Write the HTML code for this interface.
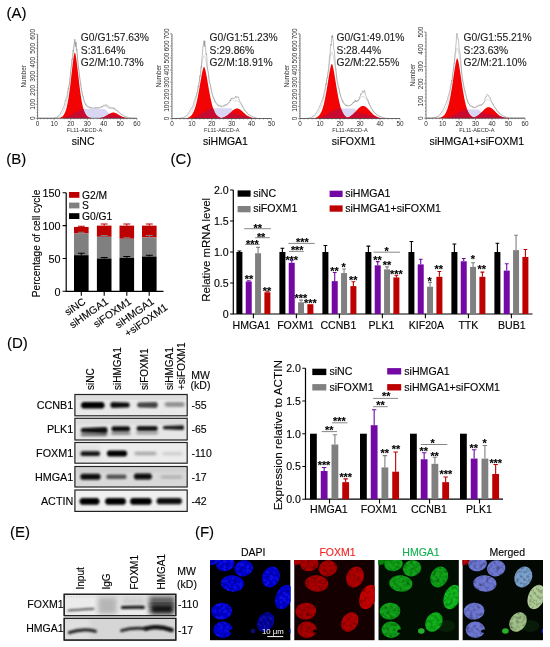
<!DOCTYPE html>
<html><head><meta charset="utf-8"><style>
html,body{margin:0;padding:0;background:#fff;}
svg{display:block;font-family:"Liberation Sans", Arial, sans-serif;}
</style></head><body>
<svg width="550" height="647" viewBox="0 0 550 647">
<rect width="550" height="647" fill="#fff"/>
<text x="6.40" y="17.80" font-size="15" text-anchor="start" fill="#000" stroke="#000" stroke-width="0.12">(A)</text>
<g>
<polygon points="37.60,118.30 37.60,118.30 38.01,118.30 38.43,118.30 38.84,118.30 39.26,118.30 39.67,118.30 40.08,118.30 40.50,118.30 40.91,118.30 41.32,118.30 41.74,118.30 42.15,118.30 42.56,118.30 42.98,118.30 43.39,118.30 43.81,118.30 44.22,118.30 44.63,118.30 45.05,118.30 45.46,118.30 45.88,118.30 46.29,118.30 46.70,118.30 47.12,118.30 47.53,118.30 47.94,118.30 48.36,118.30 48.77,118.30 49.19,118.30 49.60,118.30 50.01,118.30 50.43,118.30 50.84,118.30 51.25,118.30 51.67,118.30 52.08,118.30 52.50,118.30 52.91,118.30 53.32,118.30 53.74,118.30 54.15,118.30 54.56,118.30 54.98,118.30 55.39,118.30 55.81,118.30 56.22,118.30 56.63,118.30 57.05,118.30 57.46,118.30 57.87,118.30 58.29,118.30 58.70,118.30 59.12,118.30 59.53,118.30 59.94,118.30 60.36,118.30 60.77,118.30 61.18,118.30 61.60,118.30 62.01,118.30 62.42,118.30 62.84,118.30 63.25,118.30 63.67,118.18 64.08,117.97 64.49,117.77 64.91,117.57 65.32,117.36 65.73,117.16 66.15,116.95 66.56,116.75 66.98,116.55 67.39,116.34 67.80,116.14 68.22,115.93 68.63,115.73 69.05,115.53 69.46,115.32 69.87,115.12 70.29,114.92 70.70,114.71 71.11,114.51 71.53,114.30 71.94,114.10 72.36,113.90 72.77,113.69 73.18,113.49 73.60,113.28 74.01,113.08 74.42,112.88 74.84,112.67 75.25,112.47 75.66,112.26 76.08,112.06 76.49,111.86 76.91,111.65 77.32,111.45 77.73,111.24 78.15,111.04 78.56,110.84 78.97,110.63 79.39,110.43 79.80,110.23 80.22,110.02 80.63,109.82 81.04,109.61 81.46,109.41 81.87,109.21 82.28,109.00 82.70,108.92 83.11,108.92 83.53,108.92 83.94,108.92 84.35,108.92 84.77,108.92 85.18,108.92 85.59,108.92 86.01,108.92 86.42,108.92 86.84,108.92 87.25,108.92 87.66,108.92 88.08,108.92 88.49,108.92 88.91,108.92 89.32,108.92 89.73,108.92 90.15,108.92 90.56,108.92 90.97,108.92 91.39,108.92 91.80,108.92 92.22,108.92 92.63,108.92 93.04,108.92 93.46,108.92 93.87,108.92 94.28,108.92 94.70,108.92 95.11,108.92 95.53,108.92 95.94,108.92 96.35,108.92 96.77,108.92 97.18,108.92 97.59,108.92 98.01,108.92 98.42,108.92 98.84,108.92 99.25,108.92 99.66,108.92 100.08,108.92 100.49,108.92 100.90,108.92 101.32,108.92 101.73,108.92 102.15,108.92 102.56,108.92 102.97,108.92 103.39,108.92 103.80,108.92 104.21,108.92 104.63,108.92 105.04,109.01 105.46,109.48 105.87,109.95 106.28,110.42 106.70,110.89 107.11,111.36 107.52,111.83 107.94,112.30 108.35,112.77 108.77,113.23 109.18,113.70 109.59,114.17 110.01,114.64 110.42,115.11 110.83,115.58 111.25,116.05 111.66,116.52 112.07,116.99 112.49,117.46 112.90,117.92 113.32,118.30 113.73,118.30 114.14,118.30 114.56,118.30 114.97,118.30 115.38,118.30 115.80,118.30 116.21,118.30 116.63,118.30 117.04,118.30 117.45,118.30 117.87,118.30 118.28,118.30 118.69,118.30 119.11,118.30 119.52,118.30 119.94,118.30 120.35,118.30 120.76,118.30 121.18,118.30 121.59,118.30 122.00,118.30 122.42,118.30 122.83,118.30 123.25,118.30 123.66,118.30 124.07,118.30 124.49,118.30 124.90,118.30 125.31,118.30 125.73,118.30 126.14,118.30 126.56,118.30 126.97,118.30 127.38,118.30 127.80,118.30 128.21,118.30 128.62,118.30 129.04,118.30 129.45,118.30 129.87,118.30 130.28,118.30 130.69,118.30 131.11,118.30 131.52,118.30 131.94,118.30 132.35,118.30 132.76,118.30 133.18,118.30 133.59,118.30 134.00,118.30 134.42,118.30 134.83,118.30 135.25,118.30 135.66,118.30 136.07,118.30 136.49,118.30 136.90,118.30 136.90,118.30" fill="#d8d6f2"/>
<polygon points="37.60,118.30 37.60,118.30 38.01,118.30 38.43,118.30 38.84,118.30 39.26,118.30 39.67,118.30 40.08,118.30 40.50,118.30 40.91,118.30 41.32,118.30 41.74,118.30 42.15,118.30 42.56,118.30 42.98,118.30 43.39,118.30 43.81,118.30 44.22,118.30 44.63,118.30 45.05,118.30 45.46,118.30 45.88,118.30 46.29,118.30 46.70,118.30 47.12,118.30 47.53,118.30 47.94,118.30 48.36,118.30 48.77,118.30 49.19,118.30 49.60,118.30 50.01,118.30 50.43,118.30 50.84,118.30 51.25,118.30 51.67,118.30 52.08,118.30 52.50,118.29 52.91,118.29 53.32,118.29 53.74,118.29 54.15,118.28 54.56,118.28 54.98,118.27 55.39,118.26 55.81,118.25 56.22,118.24 56.63,118.22 57.05,118.20 57.46,118.17 57.87,118.13 58.29,118.09 58.70,118.03 59.12,117.96 59.53,117.87 59.94,117.77 60.36,117.64 60.77,117.48 61.18,117.28 61.60,117.05 62.01,116.77 62.42,116.44 62.84,116.04 63.25,115.57 63.67,115.01 64.08,114.36 64.49,113.59 64.91,112.71 65.32,111.69 65.73,110.53 66.15,109.19 66.56,107.69 66.98,105.99 67.39,104.10 67.80,101.99 68.22,99.67 68.63,97.13 69.05,94.38 69.46,91.42 69.87,88.26 70.29,84.93 70.70,81.46 71.11,77.87 71.53,74.22 71.94,70.57 72.36,66.98 72.77,63.52 73.18,60.30 73.60,57.42 74.01,55.00 74.42,53.21 74.84,52.36 75.25,53.21 75.66,55.00 76.08,57.42 76.49,60.30 76.91,63.52 77.32,66.98 77.73,70.57 78.15,74.22 78.56,77.87 78.97,81.46 79.39,84.93 79.80,88.26 80.22,91.42 80.63,94.38 81.04,97.13 81.46,99.67 81.87,101.99 82.28,104.10 82.70,105.99 83.11,107.69 83.53,109.19 83.94,110.53 84.35,111.69 84.77,112.71 85.18,113.59 85.59,114.36 86.01,115.01 86.42,115.57 86.84,116.04 87.25,116.44 87.66,116.77 88.08,117.05 88.49,117.28 88.91,117.48 89.32,117.64 89.73,117.77 90.15,117.87 90.56,117.96 90.97,118.03 91.39,118.09 91.80,118.13 92.22,118.17 92.63,118.20 93.04,118.22 93.46,118.24 93.87,118.25 94.28,118.26 94.70,118.27 95.11,118.28 95.53,118.27 95.94,118.26 96.35,118.25 96.77,118.24 97.18,118.22 97.59,118.20 98.01,118.18 98.42,118.15 98.84,118.12 99.25,118.08 99.66,118.04 100.08,117.98 100.49,117.92 100.90,117.85 101.32,117.77 101.73,117.68 102.15,117.57 102.56,117.45 102.97,117.32 103.39,117.17 103.80,117.01 104.21,116.83 104.63,116.64 105.04,116.44 105.46,116.22 105.87,115.99 106.28,115.75 106.70,115.50 107.11,115.24 107.52,114.98 107.94,114.71 108.35,114.45 108.77,114.19 109.18,113.94 109.59,113.70 110.01,113.48 110.42,113.27 110.83,113.09 111.25,112.93 111.66,112.79 112.07,112.69 112.49,112.61 112.90,112.57 113.32,112.56 113.73,112.58 114.14,112.64 114.56,112.73 114.97,112.84 115.38,112.99 115.80,113.16 116.21,113.35 116.63,113.57 117.04,113.80 117.45,114.04 117.87,114.30 118.28,114.56 118.69,114.82 119.11,115.08 119.52,115.34 119.94,115.60 120.35,115.84 120.76,116.08 121.18,116.31 121.59,116.52 122.00,116.72 122.42,116.90 122.83,117.08 123.25,117.23 123.66,117.37 124.07,117.50 124.49,117.61 124.90,117.71 125.31,117.80 125.73,117.88 126.14,117.95 126.56,118.01 126.97,118.06 127.38,118.10 127.80,118.14 128.21,118.17 128.62,118.19 129.04,118.21 129.45,118.23 129.87,118.24 130.28,118.26 130.69,118.27 131.11,118.27 131.52,118.28 131.94,118.28 132.35,118.29 132.76,118.29 133.18,118.29 133.59,118.29 134.00,118.30 134.42,118.30 134.83,118.30 135.25,118.30 135.66,118.30 136.07,118.30 136.49,118.30 136.90,118.30 136.90,118.30" fill="#f20404"/>
<polygon points="37.60,118.30 37.60,118.30 38.01,118.30 38.43,118.30 38.84,118.30 39.26,118.30 39.67,118.30 40.08,118.30 40.50,118.30 40.91,118.30 41.32,118.30 41.74,118.30 42.15,118.30 42.56,118.30 42.98,118.30 43.39,118.30 43.81,118.30 44.22,118.30 44.63,118.30 45.05,118.30 45.46,118.30 45.88,118.30 46.29,118.30 46.70,118.30 47.12,118.30 47.53,118.30 47.94,118.30 48.36,118.30 48.77,118.30 49.19,118.30 49.60,118.30 50.01,118.30 50.43,118.30 50.84,118.30 51.25,118.30 51.67,118.30 52.08,118.30 52.50,118.30 52.91,118.30 53.32,118.30 53.74,118.30 54.15,118.30 54.56,118.30 54.98,118.30 55.39,118.30 55.81,118.30 56.22,118.30 56.63,118.30 57.05,118.30 57.46,118.30 57.87,118.30 58.29,118.30 58.70,118.30 59.12,118.30 59.53,118.30 59.94,118.30 60.36,118.30 60.77,118.30 61.18,118.30 61.60,118.30 62.01,118.30 62.42,118.30 62.84,118.30 63.25,118.30 63.67,118.18 64.08,117.97 64.49,117.77 64.91,117.57 65.32,117.36 65.73,117.16 66.15,116.95 66.56,116.75 66.98,116.55 67.39,116.34 67.80,116.14 68.22,115.93 68.63,115.73 69.05,115.53 69.46,115.32 69.87,115.12 70.29,114.92 70.70,114.71 71.11,114.51 71.53,114.30 71.94,114.10 72.36,113.90 72.77,113.69 73.18,113.49 73.60,113.28 74.01,113.08 74.42,112.88 74.84,112.67 75.25,112.47 75.66,112.26 76.08,112.06 76.49,111.86 76.91,111.65 77.32,111.45 77.73,111.24 78.15,111.04 78.56,110.84 78.97,110.63 79.39,110.43 79.80,110.23 80.22,110.02 80.63,109.82 81.04,109.61 81.46,109.41 81.87,109.21 82.28,109.00 82.70,108.97 83.11,109.05 83.53,109.19 83.94,110.53 84.35,111.69 84.77,112.71 85.18,113.59 85.59,114.36 86.01,115.01 86.42,115.57 86.84,116.04 87.25,116.44 87.66,116.77 88.08,117.05 88.49,117.28 88.91,117.48 89.32,117.64 89.73,117.77 90.15,117.87 90.56,117.96 90.97,118.03 91.39,118.09 91.80,118.13 92.22,118.17 92.63,118.20 93.04,118.22 93.46,118.24 93.87,118.25 94.28,118.26 94.70,118.27 95.11,118.28 95.53,118.27 95.94,118.26 96.35,118.25 96.77,118.24 97.18,118.22 97.59,118.20 98.01,118.18 98.42,118.15 98.84,118.12 99.25,118.08 99.66,118.04 100.08,117.98 100.49,117.92 100.90,117.85 101.32,117.77 101.73,117.68 102.15,117.57 102.56,117.45 102.97,117.32 103.39,117.17 103.80,117.01 104.21,116.83 104.63,116.64 105.04,116.44 105.46,116.22 105.87,115.99 106.28,115.75 106.70,115.50 107.11,115.24 107.52,114.98 107.94,114.71 108.35,114.45 108.77,114.19 109.18,114.09 109.59,114.17 110.01,114.25 110.42,114.33 110.83,114.41 111.25,114.49 111.66,114.57 112.07,114.65 112.49,114.73 112.90,114.81 113.32,114.89 113.73,114.97 114.14,115.05 114.56,115.13 114.97,115.21 115.38,115.29 115.80,115.37 116.21,115.45 116.63,115.53 117.04,115.61 117.45,115.69 117.87,115.77 118.28,115.85 118.69,115.93 119.11,116.01 119.52,116.09 119.94,116.17 120.35,116.25 120.76,116.33 121.18,116.41 121.59,116.52 122.00,116.72 122.42,116.90 122.83,117.08 123.25,117.23 123.66,117.37 124.07,117.50 124.49,117.61 124.90,117.71 125.31,117.80 125.73,117.88 126.14,117.95 126.56,118.01 126.97,118.06 127.38,118.10 127.80,118.14 128.21,118.17 128.62,118.19 129.04,118.21 129.45,118.23 129.87,118.24 130.28,118.26 130.69,118.27 131.11,118.30 131.52,118.30 131.94,118.30 132.35,118.30 132.76,118.30 133.18,118.30 133.59,118.30 134.00,118.30 134.42,118.30 134.83,118.30 135.25,118.30 135.66,118.30 136.07,118.30 136.49,118.30 136.90,118.30 136.90,118.30" fill="#c80a30"/>
<polyline points="37.60,118.30 38.01,118.30 38.43,118.30 38.84,118.30 39.26,118.30 39.67,118.30 40.08,118.30 40.50,118.30 40.91,118.30 41.32,118.30 41.74,118.30 42.15,118.30 42.56,118.30 42.98,118.30 43.39,118.30 43.81,118.30 44.22,118.30 44.63,118.30 45.05,118.30 45.46,118.30 45.88,118.30 46.29,118.30 46.70,118.30 47.12,118.30 47.53,118.30 47.94,118.30 48.36,118.30 48.77,118.29 49.19,118.29 49.60,118.29 50.01,118.28 50.43,118.28 50.84,118.27 51.25,118.26 51.67,118.25 52.08,118.23 52.50,118.21 52.91,118.18 53.32,118.15 53.74,118.11 54.15,118.06 54.56,118.00 54.98,117.93 55.39,117.85 55.81,117.75 56.22,117.64 56.63,117.50 57.05,117.35 57.46,117.18 57.87,116.98 58.29,116.76 58.70,116.52 59.12,116.25 59.53,115.95 59.94,115.62 60.36,115.26 60.77,114.87 61.18,114.44 61.60,113.98 62.01,113.48 62.42,112.93 62.84,112.34 63.25,111.68 63.67,110.84 64.08,109.83 64.49,108.74 64.91,107.55 65.32,106.25 65.73,104.82 66.15,103.24 66.56,101.51 66.98,99.60 67.39,97.49 67.80,95.18 68.22,92.66 68.63,89.91 69.05,86.94 69.46,83.75 69.87,80.35 70.29,76.76 70.70,73.01 71.11,69.13 71.53,65.17 71.94,61.19 72.36,57.26 72.77,53.48 73.18,49.92 73.60,46.72 74.01,44.01 74.42,41.96 74.84,40.91 75.25,41.69 75.66,43.47 76.08,45.92 76.49,48.87 76.91,52.17 77.32,55.71 77.73,59.41 78.15,63.16 78.56,66.90 78.97,70.58 79.39,74.13 79.80,77.53 80.22,80.73 80.63,83.72 81.04,86.49 81.46,89.02 81.87,91.32 82.28,93.38 82.70,95.34 83.11,97.18 83.53,98.80 83.94,100.24 84.35,101.50 84.77,102.60 85.18,103.56 85.59,104.38 86.01,105.08 86.42,105.68 86.84,106.19 87.25,106.63 87.66,106.99 88.08,107.29 88.49,107.54 88.91,107.75 89.32,107.92 89.73,108.06 90.15,108.17 90.56,108.26 90.97,108.34 91.39,108.40 91.80,108.44 92.22,108.48 92.63,108.50 93.04,108.52 93.46,108.53 93.87,108.54 94.28,108.54 94.70,108.54 95.11,108.53 95.53,108.51 95.94,108.50 96.35,108.47 96.77,108.45 97.18,108.41 97.59,108.37 98.01,108.33 98.42,108.27 98.84,108.21 99.25,108.14 99.66,108.06 100.08,107.97 100.49,107.88 100.90,107.77 101.32,107.65 101.73,107.51 102.15,107.37 102.56,107.21 102.97,107.04 103.39,106.85 103.80,106.66 104.21,106.45 104.63,106.23 105.04,106.09 105.46,106.34 105.87,106.57 106.28,106.80 106.70,107.03 107.11,107.25 107.52,107.47 107.94,107.70 108.35,107.93 108.77,108.18 109.18,108.43 109.59,108.70 110.01,108.58 110.42,108.49 110.83,108.43 111.25,108.38 111.66,108.37 112.07,108.39 112.49,108.43 112.90,108.51 113.32,108.63 113.73,108.77 114.14,108.94 114.56,109.15 114.97,109.38 115.38,109.64 115.80,109.92 116.21,110.23 116.63,110.55 117.04,110.88 117.45,111.23 117.87,111.58 118.28,111.94 118.69,112.30 119.11,112.66 119.52,113.01 119.94,113.36 120.35,113.70 120.76,114.02 121.18,114.34 121.59,114.64 122.00,114.92 122.42,115.19 122.83,115.45 123.25,115.69 123.66,115.91 124.07,116.13 124.49,116.32 124.90,116.51 125.31,116.68 125.73,116.84 126.14,116.99 126.56,117.13 126.97,117.27 127.38,117.39 127.80,117.51 128.21,117.62 128.62,117.73 129.04,117.83 129.45,117.93 129.87,118.03 130.28,118.12 130.69,118.22 131.11,118.27 131.52,118.28 131.94,118.28 132.35,118.29 132.76,118.29 133.18,118.29 133.59,118.29 134.00,118.30 134.42,118.30 134.83,118.30 135.25,118.30 135.66,118.30 136.07,118.30 136.49,118.30 136.90,118.30" fill="none" stroke="#b4b4b4" stroke-width="0.45"/>
<polyline points="37.60,118.30 38.01,118.30 38.43,118.30 38.84,118.30 39.26,118.30 39.67,118.30 40.08,118.30 40.50,118.30 40.91,118.30 41.32,118.30 41.74,118.30 42.15,118.30 42.56,118.30 42.98,118.30 43.39,118.30 43.81,118.30 44.22,118.30 44.63,118.30 45.05,118.30 45.46,118.30 45.88,118.30 46.29,118.30 46.70,118.30 47.12,118.30 47.53,118.30 47.94,118.30 48.36,118.30 48.77,118.30 49.19,118.30 49.60,118.29 50.01,118.29 50.43,118.29 50.84,118.28 51.25,118.28 51.67,118.27 52.08,118.25 52.50,118.24 52.91,118.22 53.32,118.19 53.74,118.16 54.15,118.09 54.56,118.04 54.98,117.95 55.39,117.87 55.81,117.74 56.22,117.60 56.63,117.42 57.05,117.18 57.46,116.92 57.87,116.55 58.29,116.23 58.70,115.75 59.12,115.29 59.53,114.71 59.94,114.25 60.36,113.89 60.77,112.80 61.18,111.95 61.60,111.17 62.01,110.60 62.42,109.56 62.84,109.18 63.25,107.48 63.67,106.66 64.08,105.83 64.49,104.94 64.91,102.20 65.32,100.48 65.73,100.92 66.15,97.78 66.56,97.11 66.98,96.14 67.39,93.96 67.80,90.50 68.22,87.95 68.63,88.68 69.05,84.03 69.46,83.84 69.87,77.98 70.29,76.85 70.70,70.71 71.11,66.61 71.53,65.88 71.94,58.91 72.36,59.87 72.77,57.93 73.18,50.12 73.60,51.33 74.01,46.83 74.42,42.46 74.84,39.14 75.25,43.93 75.66,46.70 76.08,42.06 76.49,50.27 76.91,48.98 77.32,53.77 77.73,61.69 78.15,65.15 78.56,68.65 78.97,71.64 79.39,75.39 79.80,78.81 80.22,81.56 80.63,83.08 81.04,87.36 81.46,89.94 81.87,91.10 82.28,94.45 82.70,96.03 83.11,95.97 83.53,98.64 83.94,99.91 84.35,102.19 84.77,102.37 85.18,102.94 85.59,104.68 86.01,104.31 86.42,104.85 86.84,106.21 87.25,105.74 87.66,106.31 88.08,106.29 88.49,106.98 88.91,106.69 89.32,106.81 89.73,107.89 90.15,107.94 90.56,107.22 90.97,106.92 91.39,107.90 91.80,107.68 92.22,107.54 92.63,107.92 93.04,107.88 93.46,107.96 93.87,107.90 94.28,107.62 94.70,108.00 95.11,107.90 95.53,107.40 95.94,108.34 96.35,107.64 96.77,107.41 97.18,107.93 97.59,108.02 98.01,107.24 98.42,107.92 98.84,107.94 99.25,107.55 99.66,107.13 100.08,107.82 100.49,107.41 100.90,107.26 101.32,106.42 101.73,106.78 102.15,105.98 102.56,106.74 102.97,106.24 103.39,105.50 103.80,104.84 104.21,105.20 104.63,105.25 105.04,105.20 105.46,104.73 105.87,105.47 106.28,104.71 106.70,104.89 107.11,106.14 107.52,106.26 107.94,105.77 108.35,106.33 108.77,106.45 109.18,107.44 109.59,108.10 110.01,107.87 110.42,107.23 110.83,107.92 111.25,107.87 111.66,107.85 112.07,107.93 112.49,108.05 112.90,107.55 113.32,108.64 113.73,108.99 114.14,108.08 114.56,108.39 114.97,108.53 115.38,109.40 115.80,109.15 116.21,109.50 116.63,110.52 117.04,110.36 117.45,110.64 117.87,111.16 118.28,111.64 118.69,112.18 119.11,112.50 119.52,112.93 119.94,113.37 120.35,113.40 120.76,113.90 121.18,113.96 121.59,114.63 122.00,114.55 122.42,114.93 122.83,115.11 123.25,115.39 123.66,115.64 124.07,115.96 124.49,116.31 124.90,116.33 125.31,116.63 125.73,116.77 126.14,116.87 126.56,117.04 126.97,117.20 127.38,117.27 127.80,117.44 128.21,117.58 128.62,117.70 129.04,117.78 129.45,117.91 129.87,118.00 130.28,118.11 130.69,118.21 131.11,118.27 131.52,118.28 131.94,118.28 132.35,118.29 132.76,118.29 133.18,118.29 133.59,118.29 134.00,118.30 134.42,118.30 134.83,118.30 135.25,118.30 135.66,118.30 136.07,118.30 136.49,118.30 136.90,118.30" fill="none" stroke="#6a6a6a" stroke-width="0.42"/>
<path d="M37.60,34.30V118.30H136.90" fill="none" stroke="#444" stroke-width="0.7"/>
<path d="M37.60,118.30h-2.0 M37.60,115.50h-1.0 M37.60,112.70h-1.0 M37.60,109.90h-1.0 M37.60,107.10h-1.0 M37.60,104.30h-2.0 M37.60,101.50h-1.0 M37.60,98.70h-1.0 M37.60,95.90h-1.0 M37.60,93.10h-1.0 M37.60,90.30h-2.0 M37.60,87.50h-1.0 M37.60,84.70h-1.0 M37.60,81.90h-1.0 M37.60,79.10h-1.0 M37.60,76.30h-2.0 M37.60,73.50h-1.0 M37.60,70.70h-1.0 M37.60,67.90h-1.0 M37.60,65.10h-1.0 M37.60,62.30h-2.0 M37.60,59.50h-1.0 M37.60,56.70h-1.0 M37.60,53.90h-1.0 M37.60,51.10h-1.0 M37.60,48.30h-2.0 M37.60,45.50h-1.0 M37.60,42.70h-1.0 M37.60,39.90h-1.0 M37.60,37.10h-1.0 M37.60,34.30h-2.0 M37.60,118.30v2.0 M40.91,118.30v1.0 M44.22,118.30v1.0 M47.53,118.30v1.0 M50.84,118.30v1.0 M54.15,118.30v2.0 M57.46,118.30v1.0 M60.77,118.30v1.0 M64.08,118.30v1.0 M67.39,118.30v1.0 M70.70,118.30v2.0 M74.01,118.30v1.0 M77.32,118.30v1.0 M80.63,118.30v1.0 M83.94,118.30v1.0 M87.25,118.30v2.0 M90.56,118.30v1.0 M93.87,118.30v1.0 M97.18,118.30v1.0 M100.49,118.30v1.0 M103.80,118.30v2.0 M107.11,118.30v1.0 M110.42,118.30v1.0 M113.73,118.30v1.0 M117.04,118.30v1.0 M120.35,118.30v2.0 M123.66,118.30v1.0 M126.97,118.30v1.0 M130.28,118.30v1.0 M133.59,118.30v1.0 M136.90,118.30v2.0" stroke="#444" stroke-width="0.5"/>
<text x="34.90" y="118.30" font-size="6.5" text-anchor="middle" fill="#2a2a2a" transform="rotate(-90 34.90 118.30)">0</text>
<text x="34.90" y="104.30" font-size="6.5" text-anchor="middle" fill="#2a2a2a" transform="rotate(-90 34.90 104.30)">100</text>
<text x="34.90" y="90.30" font-size="6.5" text-anchor="middle" fill="#2a2a2a" transform="rotate(-90 34.90 90.30)">200</text>
<text x="34.90" y="76.30" font-size="6.5" text-anchor="middle" fill="#2a2a2a" transform="rotate(-90 34.90 76.30)">300</text>
<text x="34.90" y="62.30" font-size="6.5" text-anchor="middle" fill="#2a2a2a" transform="rotate(-90 34.90 62.30)">400</text>
<text x="34.90" y="48.30" font-size="6.5" text-anchor="middle" fill="#2a2a2a" transform="rotate(-90 34.90 48.30)">500</text>
<text x="34.90" y="34.30" font-size="6.5" text-anchor="middle" fill="#2a2a2a" transform="rotate(-90 34.90 34.30)">600</text>
<text x="37.60" y="126.10" font-size="6.4" text-anchor="middle" fill="#2a2a2a">0</text>
<text x="54.15" y="126.10" font-size="6.4" text-anchor="middle" fill="#2a2a2a">10</text>
<text x="70.70" y="126.10" font-size="6.4" text-anchor="middle" fill="#2a2a2a">20</text>
<text x="87.25" y="126.10" font-size="6.4" text-anchor="middle" fill="#2a2a2a">30</text>
<text x="103.80" y="126.10" font-size="6.4" text-anchor="middle" fill="#2a2a2a">40</text>
<text x="120.35" y="126.10" font-size="6.4" text-anchor="middle" fill="#2a2a2a">50</text>
<text x="136.90" y="126.10" font-size="6.4" text-anchor="middle" fill="#2a2a2a">60</text>
<text x="26.20" y="76.30" font-size="6.3" text-anchor="middle" fill="#2a2a2a" transform="rotate(-90 26.20 76.30)">Number</text>
<text x="84.50" y="131.60" font-size="5.6" text-anchor="middle" fill="#333">FL11-AECD-A</text>
<text x="80.80" y="41.00" font-size="10.3" text-anchor="start" fill="#222" stroke="#222" stroke-width="0.12">G0/G1:57.63%</text>
<text x="80.80" y="53.55" font-size="10.3" text-anchor="start" fill="#222" stroke="#222" stroke-width="0.12">S:31.64%</text>
<text x="80.80" y="66.10" font-size="10.3" text-anchor="start" fill="#222" stroke="#222" stroke-width="0.12">G2/M:10.73%</text>
<text x="83.10" y="145.30" font-size="10.5" text-anchor="middle" fill="#000" stroke="#000" stroke-width="0.12">siNC</text>
</g>
<g>
<polygon points="172.00,118.50 172.00,118.50 172.41,118.50 172.83,118.50 173.24,118.50 173.66,118.50 174.07,118.50 174.49,118.50 174.90,118.50 175.32,118.50 175.73,118.50 176.15,118.50 176.56,118.50 176.97,118.50 177.39,118.50 177.80,118.50 178.22,118.50 178.63,118.50 179.05,118.50 179.46,118.50 179.88,118.50 180.29,118.50 180.71,118.50 181.12,118.50 181.54,118.50 181.95,118.50 182.36,118.50 182.78,118.50 183.19,118.50 183.61,118.50 184.02,118.50 184.44,118.50 184.85,118.50 185.27,118.50 185.68,118.50 186.10,118.50 186.51,118.50 186.93,118.50 187.34,118.50 187.75,118.50 188.17,118.50 188.58,118.50 189.00,118.50 189.41,118.50 189.83,118.50 190.24,118.50 190.66,118.50 191.07,118.50 191.49,118.50 191.90,118.50 192.31,118.49 192.73,118.26 193.14,118.03 193.56,117.80 193.97,117.57 194.39,117.34 194.80,117.11 195.22,116.88 195.63,116.65 196.05,116.42 196.46,116.19 196.88,115.96 197.29,115.73 197.70,115.50 198.12,115.27 198.53,115.03 198.95,114.80 199.36,114.57 199.78,114.34 200.19,114.11 200.61,113.88 201.02,113.65 201.44,113.42 201.85,113.19 202.26,112.96 202.68,112.73 203.09,112.50 203.51,112.27 203.92,112.04 204.34,111.81 204.75,111.58 205.17,111.35 205.58,111.12 206.00,110.89 206.41,110.66 206.82,110.43 207.24,110.20 207.65,109.97 208.07,109.74 208.48,109.51 208.90,109.27 209.31,109.04 209.73,108.81 210.14,108.58 210.56,108.35 210.97,108.22 211.39,108.22 211.80,108.22 212.21,108.22 212.63,108.22 213.04,108.22 213.46,108.22 213.87,108.22 214.29,108.22 214.70,108.22 215.12,108.22 215.53,108.22 215.95,108.22 216.36,108.22 216.78,108.22 217.19,108.22 217.60,108.22 218.02,108.22 218.43,108.22 218.85,108.22 219.26,108.22 219.68,108.22 220.09,108.22 220.51,108.22 220.92,108.22 221.34,108.22 221.75,108.22 222.16,108.22 222.58,108.22 222.99,108.22 223.41,108.22 223.82,108.22 224.24,108.22 224.65,108.22 225.07,108.22 225.48,108.22 225.90,108.22 226.31,108.22 226.72,108.22 227.14,108.22 227.55,108.22 227.97,108.22 228.38,108.22 228.80,108.22 229.21,108.22 229.63,108.22 230.04,108.22 230.46,108.22 230.87,108.22 231.29,108.22 231.70,108.22 232.11,109.01 232.53,109.80 232.94,110.60 233.36,111.39 233.77,112.18 234.19,112.98 234.60,113.77 235.02,114.56 235.43,115.36 235.85,116.15 236.26,116.94 236.68,117.74 237.09,118.50 237.50,118.50 237.92,118.50 238.33,118.50 238.75,118.50 239.16,118.50 239.58,118.50 239.99,118.50 240.41,118.50 240.82,118.50 241.24,118.50 241.65,118.50 242.06,118.50 242.48,118.50 242.89,118.50 243.31,118.50 243.72,118.50 244.14,118.50 244.55,118.50 244.97,118.50 245.38,118.50 245.80,118.50 246.21,118.50 246.62,118.50 247.04,118.50 247.45,118.50 247.87,118.50 248.28,118.50 248.70,118.50 249.11,118.50 249.53,118.50 249.94,118.50 250.36,118.50 250.77,118.50 251.19,118.50 251.60,118.50 252.01,118.50 252.43,118.50 252.84,118.50 253.26,118.50 253.67,118.50 254.09,118.50 254.50,118.50 254.92,118.50 255.33,118.50 255.75,118.50 256.16,118.50 256.57,118.50 256.99,118.50 257.40,118.50 257.82,118.50 258.23,118.50 258.65,118.50 259.06,118.50 259.48,118.50 259.89,118.50 260.31,118.50 260.72,118.50 261.14,118.50 261.55,118.50 261.96,118.50 262.38,118.50 262.79,118.50 263.21,118.50 263.62,118.50 264.04,118.50 264.45,118.50 264.87,118.50 265.28,118.50 265.70,118.50 266.11,118.50 266.52,118.50 266.94,118.50 267.35,118.50 267.77,118.50 268.18,118.50 268.60,118.50 269.01,118.50 269.43,118.50 269.84,118.50 270.26,118.50 270.67,118.50 271.09,118.50 271.50,118.50 271.50,118.50" fill="#d8d6f2"/>
<polygon points="172.00,118.50 172.00,118.50 172.41,118.50 172.83,118.50 173.24,118.50 173.66,118.50 174.07,118.50 174.49,118.50 174.90,118.50 175.32,118.50 175.73,118.50 176.15,118.50 176.56,118.50 176.97,118.50 177.39,118.50 177.80,118.50 178.22,118.49 178.63,118.49 179.05,118.49 179.46,118.49 179.88,118.48 180.29,118.48 180.71,118.48 181.12,118.47 181.54,118.46 181.95,118.45 182.36,118.44 182.78,118.43 183.19,118.41 183.61,118.39 184.02,118.37 184.44,118.34 184.85,118.30 185.27,118.26 185.68,118.20 186.10,118.14 186.51,118.07 186.93,117.98 187.34,117.88 187.75,117.75 188.17,117.61 188.58,117.44 189.00,117.24 189.41,117.01 189.83,116.75 190.24,116.44 190.66,116.09 191.07,115.68 191.49,115.22 191.90,114.70 192.31,114.10 192.73,113.43 193.14,112.67 193.56,111.83 193.97,110.89 194.39,109.84 194.80,108.69 195.22,107.42 195.63,106.04 196.05,104.53 196.46,102.91 196.88,101.16 197.29,99.28 197.70,97.30 198.12,95.20 198.53,93.00 198.95,90.71 199.36,88.36 199.78,85.95 200.19,83.51 200.61,81.08 201.02,78.68 201.44,76.35 201.85,74.13 202.26,72.08 202.68,70.24 203.09,68.68 203.51,67.48 203.92,66.77 204.34,67.01 204.75,67.96 205.17,69.32 205.58,71.02 206.00,72.96 206.41,75.09 206.82,77.36 207.24,79.73 207.65,82.15 208.07,84.59 208.48,87.01 208.90,89.40 209.31,91.73 209.73,93.98 210.14,96.13 210.56,98.18 210.97,100.12 211.39,101.94 211.80,103.64 212.21,105.21 212.63,106.66 213.04,107.99 213.46,109.21 213.87,110.31 214.29,111.31 214.70,112.21 215.12,113.02 215.53,113.73 215.95,114.37 216.36,114.94 216.78,115.43 217.19,115.87 217.60,116.25 218.02,116.58 218.43,116.87 218.85,117.12 219.26,117.33 219.68,117.52 220.09,117.68 220.51,117.81 220.92,117.92 221.34,118.02 221.75,117.94 222.16,117.85 222.58,117.75 222.99,117.63 223.41,117.50 223.82,117.35 224.24,117.18 224.65,117.00 225.07,116.80 225.48,116.58 225.90,116.35 226.31,116.09 226.72,115.82 227.14,115.53 227.55,115.21 227.97,114.89 228.38,114.54 228.80,114.18 229.21,113.81 229.63,113.43 230.04,113.04 230.46,112.65 230.87,112.25 231.29,111.85 231.70,111.46 232.11,111.08 232.53,110.71 232.94,110.36 233.36,110.03 233.77,109.72 234.19,109.44 234.60,109.19 235.02,108.97 235.43,108.79 235.85,108.64 236.26,108.54 236.68,108.48 237.09,108.46 237.50,108.48 237.92,108.55 238.33,108.65 238.75,108.80 239.16,108.98 239.58,109.20 239.99,109.46 240.41,109.74 240.82,110.05 241.24,110.39 241.65,110.74 242.06,111.11 242.48,111.50 242.89,111.89 243.31,112.28 243.72,112.68 244.14,113.07 244.55,113.46 244.97,113.84 245.38,114.21 245.80,114.57 246.21,114.91 246.62,115.24 247.04,115.55 247.45,115.84 247.87,116.11 248.28,116.37 248.70,116.60 249.11,116.82 249.53,117.02 249.94,117.20 250.36,117.36 250.77,117.51 251.19,117.64 251.60,117.76 252.01,117.86 252.43,117.95 252.84,118.03 253.26,118.10 253.67,118.16 254.09,118.22 254.50,118.26 254.92,118.30 255.33,118.34 255.75,118.36 256.16,118.39 256.57,118.41 256.99,118.42 257.40,118.44 257.82,118.45 258.23,118.46 258.65,118.47 259.06,118.47 259.48,118.48 259.89,118.48 260.31,118.49 260.72,118.49 261.14,118.49 261.55,118.49 261.96,118.50 262.38,118.50 262.79,118.50 263.21,118.50 263.62,118.50 264.04,118.50 264.45,118.50 264.87,118.50 265.28,118.50 265.70,118.50 266.11,118.50 266.52,118.50 266.94,118.50 267.35,118.50 267.77,118.50 268.18,118.50 268.60,118.50 269.01,118.50 269.43,118.50 269.84,118.50 270.26,118.50 270.67,118.50 271.09,118.50 271.50,118.50 271.50,118.50" fill="#f20404"/>
<polygon points="172.00,118.50 172.00,118.50 172.41,118.50 172.83,118.50 173.24,118.50 173.66,118.50 174.07,118.50 174.49,118.50 174.90,118.50 175.32,118.50 175.73,118.50 176.15,118.50 176.56,118.50 176.97,118.50 177.39,118.50 177.80,118.50 178.22,118.50 178.63,118.50 179.05,118.50 179.46,118.50 179.88,118.50 180.29,118.50 180.71,118.50 181.12,118.50 181.54,118.50 181.95,118.50 182.36,118.50 182.78,118.50 183.19,118.50 183.61,118.50 184.02,118.50 184.44,118.50 184.85,118.50 185.27,118.50 185.68,118.50 186.10,118.50 186.51,118.50 186.93,118.50 187.34,118.50 187.75,118.50 188.17,118.50 188.58,118.50 189.00,118.50 189.41,118.50 189.83,118.50 190.24,118.50 190.66,118.50 191.07,118.50 191.49,118.50 191.90,118.50 192.31,118.49 192.73,118.26 193.14,118.03 193.56,117.80 193.97,117.57 194.39,117.34 194.80,117.11 195.22,116.88 195.63,116.65 196.05,116.42 196.46,116.19 196.88,115.96 197.29,115.73 197.70,115.50 198.12,115.27 198.53,115.03 198.95,114.80 199.36,114.57 199.78,114.34 200.19,114.11 200.61,113.88 201.02,113.65 201.44,113.42 201.85,113.19 202.26,112.96 202.68,112.73 203.09,112.50 203.51,112.27 203.92,112.04 204.34,111.81 204.75,111.58 205.17,111.35 205.58,111.12 206.00,110.89 206.41,110.66 206.82,110.43 207.24,110.20 207.65,109.97 208.07,109.74 208.48,109.51 208.90,109.27 209.31,109.04 209.73,108.81 210.14,108.58 210.56,108.35 210.97,108.25 211.39,108.34 211.80,108.43 212.21,108.53 212.63,108.62 213.04,108.71 213.46,109.21 213.87,110.31 214.29,111.31 214.70,112.21 215.12,113.02 215.53,113.73 215.95,114.37 216.36,114.94 216.78,115.43 217.19,115.87 217.60,116.25 218.02,116.58 218.43,116.87 218.85,117.12 219.26,117.33 219.68,117.52 220.09,117.68 220.51,117.81 220.92,117.92 221.34,118.02 221.75,117.94 222.16,117.85 222.58,117.75 222.99,117.63 223.41,117.50 223.82,117.35 224.24,117.18 224.65,117.00 225.07,116.80 225.48,116.58 225.90,116.35 226.31,116.09 226.72,115.82 227.14,115.53 227.55,115.21 227.97,114.89 228.38,114.54 228.80,114.18 229.21,113.81 229.63,113.43 230.04,113.04 230.46,112.65 230.87,112.63 231.29,112.72 231.70,112.81 232.11,112.90 232.53,112.99 232.94,113.08 233.36,113.18 233.77,113.27 234.19,113.36 234.60,113.45 235.02,113.54 235.43,113.63 235.85,113.72 236.26,113.81 236.68,113.90 237.09,114.00 237.50,114.09 237.92,114.18 238.33,114.27 238.75,114.36 239.16,114.45 239.58,114.54 239.99,114.63 240.41,114.73 240.82,114.82 241.24,114.91 241.65,115.00 242.06,115.09 242.48,115.18 242.89,115.27 243.31,115.36 243.72,115.45 244.14,115.55 244.55,115.64 244.97,115.73 245.38,115.82 245.80,115.91 246.21,116.00 246.62,116.09 247.04,116.18 247.45,116.28 247.87,116.37 248.28,116.46 248.70,116.60 249.11,116.82 249.53,117.02 249.94,117.20 250.36,117.36 250.77,117.51 251.19,117.64 251.60,117.76 252.01,117.86 252.43,117.95 252.84,118.03 253.26,118.10 253.67,118.16 254.09,118.22 254.50,118.26 254.92,118.30 255.33,118.34 255.75,118.36 256.16,118.39 256.57,118.41 256.99,118.42 257.40,118.46 257.82,118.50 258.23,118.50 258.65,118.50 259.06,118.50 259.48,118.50 259.89,118.50 260.31,118.50 260.72,118.50 261.14,118.50 261.55,118.50 261.96,118.50 262.38,118.50 262.79,118.50 263.21,118.50 263.62,118.50 264.04,118.50 264.45,118.50 264.87,118.50 265.28,118.50 265.70,118.50 266.11,118.50 266.52,118.50 266.94,118.50 267.35,118.50 267.77,118.50 268.18,118.50 268.60,118.50 269.01,118.50 269.43,118.50 269.84,118.50 270.26,118.50 270.67,118.50 271.09,118.50 271.50,118.50 271.50,118.50" fill="#c80a30"/>
<polyline points="172.00,118.50 172.41,118.50 172.83,118.50 173.24,118.49 173.66,118.49 174.07,118.49 174.49,118.49 174.90,118.48 175.32,118.48 175.73,118.48 176.15,118.47 176.56,118.46 176.97,118.45 177.39,118.44 177.80,118.42 178.22,118.40 178.63,118.38 179.05,118.35 179.46,118.32 179.88,118.29 180.29,118.24 180.71,118.19 181.12,118.14 181.54,118.07 181.95,118.00 182.36,117.91 182.78,117.82 183.19,117.71 183.61,117.59 184.02,117.46 184.44,117.31 184.85,117.15 185.27,116.98 185.68,116.79 186.10,116.58 186.51,116.36 186.93,116.12 187.34,115.86 187.75,115.58 188.17,115.28 188.58,114.96 189.00,114.62 189.41,114.25 189.83,113.85 190.24,113.42 190.66,112.96 191.07,112.45 191.49,111.90 191.90,111.30 192.31,110.63 192.73,109.67 193.14,108.64 193.56,107.53 193.97,106.33 194.39,105.04 194.80,103.65 195.22,102.15 195.63,100.53 196.05,98.79 196.46,96.93 196.88,94.94 197.29,92.83 197.70,90.59 198.12,88.23 198.53,85.76 198.95,83.20 199.36,80.55 199.78,77.85 200.19,75.10 200.61,72.36 201.02,69.64 201.44,66.99 201.85,64.45 202.26,62.08 202.68,59.94 203.09,58.08 203.51,56.61 203.92,55.67 204.34,55.74 204.75,56.56 205.17,57.84 205.58,59.46 206.00,61.35 206.41,63.44 206.82,65.67 207.24,68.01 207.65,70.39 208.07,72.80 208.48,75.19 208.90,77.54 209.31,79.82 209.73,82.02 210.14,84.12 210.56,86.10 210.97,88.05 211.39,90.01 211.80,91.85 212.21,93.55 212.63,95.11 213.04,96.55 213.46,97.86 213.87,99.05 214.29,100.13 214.70,101.09 215.12,101.96 215.53,102.73 215.95,103.41 216.36,104.01 216.78,104.53 217.19,104.99 217.60,105.38 218.02,105.72 218.43,106.01 218.85,106.25 219.26,106.44 219.68,106.60 220.09,106.72 220.51,106.81 220.92,106.87 221.34,106.90 221.75,106.90 222.16,106.88 222.58,106.83 222.99,106.75 223.41,106.65 223.82,106.52 224.24,106.37 224.65,106.19 225.07,105.98 225.48,105.74 225.90,105.48 226.31,105.19 226.72,104.87 227.14,104.52 227.55,104.15 227.97,103.74 228.38,103.31 228.80,102.85 229.21,102.37 229.63,101.87 230.04,101.35 230.46,100.82 230.87,100.28 231.29,99.73 231.70,99.19 232.11,99.46 232.53,99.75 232.94,100.06 233.36,100.40 233.77,100.76 234.19,101.16 234.60,101.28 235.02,101.05 235.43,100.88 235.85,100.76 236.26,100.71 236.68,100.72 237.09,100.80 237.50,100.94 237.92,101.14 238.33,101.41 238.75,101.73 239.16,102.12 239.58,102.55 239.99,103.03 240.41,103.55 240.82,104.11 241.24,104.69 241.65,105.30 242.06,105.93 242.48,106.56 242.89,107.19 243.31,107.83 243.72,108.46 244.14,109.08 244.55,109.68 244.97,110.27 245.38,110.83 245.80,111.37 246.21,111.89 246.62,112.38 247.04,112.85 247.45,113.29 247.87,113.70 248.28,114.09 248.70,114.45 249.11,114.79 249.53,115.10 249.94,115.40 250.36,115.67 250.77,115.92 251.19,116.16 251.60,116.38 252.01,116.58 252.43,116.77 252.84,116.95 253.26,117.12 253.67,117.28 254.09,117.42 254.50,117.56 254.92,117.70 255.33,117.83 255.75,117.95 256.16,118.07 256.57,118.18 256.99,118.29 257.40,118.40 257.82,118.45 258.23,118.46 258.65,118.47 259.06,118.47 259.48,118.48 259.89,118.48 260.31,118.49 260.72,118.49 261.14,118.49 261.55,118.49 261.96,118.50 262.38,118.50 262.79,118.50 263.21,118.50 263.62,118.50 264.04,118.50 264.45,118.50 264.87,118.50 265.28,118.50 265.70,118.50 266.11,118.50 266.52,118.50 266.94,118.50 267.35,118.50 267.77,118.50 268.18,118.50 268.60,118.50 269.01,118.50 269.43,118.50 269.84,118.50 270.26,118.50 270.67,118.50 271.09,118.50 271.50,118.50" fill="none" stroke="#b4b4b4" stroke-width="0.45"/>
<polyline points="172.00,118.50 172.41,118.50 172.83,118.50 173.24,118.50 173.66,118.50 174.07,118.50 174.49,118.50 174.90,118.49 175.32,118.49 175.73,118.49 176.15,118.48 176.56,118.48 176.97,118.47 177.39,118.46 177.80,118.45 178.22,118.43 178.63,118.41 179.05,118.39 179.46,118.36 179.88,118.33 180.29,118.27 180.71,118.21 181.12,118.15 181.54,118.08 181.95,117.99 182.36,117.86 182.78,117.71 183.19,117.53 183.61,117.40 184.02,117.13 184.44,116.92 184.85,116.70 185.27,116.42 185.68,116.07 186.10,115.64 186.51,115.35 186.93,114.82 187.34,114.47 187.75,114.10 188.17,113.43 188.58,112.78 189.00,112.66 189.41,111.82 189.83,111.21 190.24,110.14 190.66,109.39 191.07,109.31 191.49,107.99 191.90,107.38 192.31,107.33 192.73,106.02 193.14,105.52 193.56,103.25 193.97,102.34 194.39,100.66 194.80,99.55 195.22,98.47 195.63,96.87 196.05,95.80 196.46,95.54 196.88,92.44 197.29,92.56 197.70,90.29 198.12,85.99 198.53,86.73 198.95,84.40 199.36,82.07 199.78,75.79 200.19,76.56 200.61,74.52 201.02,66.51 201.44,67.39 201.85,58.73 202.26,55.78 202.68,50.35 203.09,45.39 203.51,45.14 203.92,40.73 204.34,46.79 204.75,40.76 205.17,44.90 205.58,46.01 206.00,54.61 206.41,53.64 206.82,56.73 207.24,66.87 207.65,69.03 208.07,71.24 208.48,73.15 208.90,79.04 209.31,81.83 209.73,83.76 210.14,84.32 210.56,85.72 210.97,88.92 211.39,90.83 211.80,92.42 212.21,94.12 212.63,95.36 213.04,97.57 213.46,97.68 213.87,97.66 214.29,99.97 214.70,100.14 215.12,102.16 215.53,101.81 215.95,102.33 216.36,103.05 216.78,103.82 217.19,104.30 217.60,104.40 218.02,104.30 218.43,105.77 218.85,106.06 219.26,105.22 219.68,105.11 220.09,105.83 220.51,106.02 220.92,105.66 221.34,106.48 221.75,106.35 222.16,106.43 222.58,105.80 222.99,106.13 223.41,106.16 223.82,105.34 224.24,104.78 224.65,105.64 225.07,104.80 225.48,105.06 225.90,104.10 226.31,104.28 226.72,104.54 227.14,104.33 227.55,104.35 227.97,103.17 228.38,102.97 228.80,102.96 229.21,102.15 229.63,101.75 230.04,100.28 230.46,101.07 230.87,98.57 231.29,99.07 231.70,98.08 232.11,98.53 232.53,97.76 232.94,97.87 233.36,98.57 233.77,98.81 234.19,98.33 234.60,97.78 235.02,98.29 235.43,96.97 235.85,96.02 236.26,97.05 236.68,97.59 237.09,97.66 237.50,96.66 237.92,97.18 238.33,97.03 238.75,97.97 239.16,100.15 239.58,101.06 239.99,101.76 240.41,102.77 240.82,102.69 241.24,103.33 241.65,104.17 242.06,106.04 242.48,105.93 242.89,107.47 243.31,108.02 243.72,108.33 244.14,109.69 244.55,110.26 244.97,110.07 245.38,111.12 245.80,111.56 246.21,111.86 246.62,112.26 247.04,113.16 247.45,113.34 247.87,113.66 248.28,114.00 248.70,114.48 249.11,114.63 249.53,114.78 249.94,115.31 250.36,115.52 250.77,115.92 251.19,116.10 251.60,116.21 252.01,116.56 252.43,116.58 252.84,116.77 253.26,117.10 253.67,117.12 254.09,117.37 254.50,117.46 254.92,117.61 255.33,117.79 255.75,117.90 256.16,118.03 256.57,118.15 256.99,118.28 257.40,118.39 257.82,118.45 258.23,118.46 258.65,118.47 259.06,118.47 259.48,118.48 259.89,118.48 260.31,118.49 260.72,118.49 261.14,118.49 261.55,118.49 261.96,118.49 262.38,118.50 262.79,118.50 263.21,118.50 263.62,118.50 264.04,118.50 264.45,118.50 264.87,118.50 265.28,118.50 265.70,118.50 266.11,118.50 266.52,118.50 266.94,118.50 267.35,118.50 267.77,118.50 268.18,118.50 268.60,118.50 269.01,118.50 269.43,118.50 269.84,118.50 270.26,118.50 270.67,118.50 271.09,118.50 271.50,118.50" fill="none" stroke="#6a6a6a" stroke-width="0.42"/>
<path d="M172.00,33.80V118.50H271.50" fill="none" stroke="#444" stroke-width="0.7"/>
<path d="M172.00,118.50h-2.0 M172.00,116.08h-1.0 M172.00,113.66h-1.0 M172.00,111.24h-1.0 M172.00,108.82h-1.0 M172.00,106.40h-2.0 M172.00,103.98h-1.0 M172.00,101.56h-1.0 M172.00,99.14h-1.0 M172.00,96.72h-1.0 M172.00,94.30h-2.0 M172.00,91.88h-1.0 M172.00,89.46h-1.0 M172.00,87.04h-1.0 M172.00,84.62h-1.0 M172.00,82.20h-2.0 M172.00,79.78h-1.0 M172.00,77.36h-1.0 M172.00,74.94h-1.0 M172.00,72.52h-1.0 M172.00,70.10h-2.0 M172.00,67.68h-1.0 M172.00,65.26h-1.0 M172.00,62.84h-1.0 M172.00,60.42h-1.0 M172.00,58.00h-2.0 M172.00,55.58h-1.0 M172.00,53.16h-1.0 M172.00,50.74h-1.0 M172.00,48.32h-1.0 M172.00,45.90h-2.0 M172.00,43.48h-1.0 M172.00,41.06h-1.0 M172.00,38.64h-1.0 M172.00,36.22h-1.0 M172.00,33.80h-2.0 M172.00,118.50v2.0 M175.98,118.50v1.0 M179.96,118.50v1.0 M183.94,118.50v1.0 M187.92,118.50v1.0 M191.90,118.50v2.0 M195.88,118.50v1.0 M199.86,118.50v1.0 M203.84,118.50v1.0 M207.82,118.50v1.0 M211.80,118.50v2.0 M215.78,118.50v1.0 M219.76,118.50v1.0 M223.74,118.50v1.0 M227.72,118.50v1.0 M231.70,118.50v2.0 M235.68,118.50v1.0 M239.66,118.50v1.0 M243.64,118.50v1.0 M247.62,118.50v1.0 M251.60,118.50v2.0 M255.58,118.50v1.0 M259.56,118.50v1.0 M263.54,118.50v1.0 M267.52,118.50v1.0 M271.50,118.50v2.0" stroke="#444" stroke-width="0.5"/>
<text x="169.30" y="118.50" font-size="6.5" text-anchor="middle" fill="#2a2a2a" transform="rotate(-90 169.30 118.50)">0</text>
<text x="169.30" y="106.40" font-size="6.5" text-anchor="middle" fill="#2a2a2a" transform="rotate(-90 169.30 106.40)">100</text>
<text x="169.30" y="94.30" font-size="6.5" text-anchor="middle" fill="#2a2a2a" transform="rotate(-90 169.30 94.30)">200</text>
<text x="169.30" y="82.20" font-size="6.5" text-anchor="middle" fill="#2a2a2a" transform="rotate(-90 169.30 82.20)">300</text>
<text x="169.30" y="70.10" font-size="6.5" text-anchor="middle" fill="#2a2a2a" transform="rotate(-90 169.30 70.10)">400</text>
<text x="169.30" y="58.00" font-size="6.5" text-anchor="middle" fill="#2a2a2a" transform="rotate(-90 169.30 58.00)">500</text>
<text x="169.30" y="45.90" font-size="6.5" text-anchor="middle" fill="#2a2a2a" transform="rotate(-90 169.30 45.90)">600</text>
<text x="169.30" y="33.80" font-size="6.5" text-anchor="middle" fill="#2a2a2a" transform="rotate(-90 169.30 33.80)">700</text>
<text x="172.00" y="126.30" font-size="6.4" text-anchor="middle" fill="#2a2a2a">0</text>
<text x="191.90" y="126.30" font-size="6.4" text-anchor="middle" fill="#2a2a2a">10</text>
<text x="211.80" y="126.30" font-size="6.4" text-anchor="middle" fill="#2a2a2a">20</text>
<text x="231.70" y="126.30" font-size="6.4" text-anchor="middle" fill="#2a2a2a">30</text>
<text x="251.60" y="126.30" font-size="6.4" text-anchor="middle" fill="#2a2a2a">40</text>
<text x="271.50" y="126.30" font-size="6.4" text-anchor="middle" fill="#2a2a2a">50</text>
<text x="160.60" y="76.15" font-size="6.3" text-anchor="middle" fill="#2a2a2a" transform="rotate(-90 160.60 76.15)">Number</text>
<text x="221.75" y="131.80" font-size="5.6" text-anchor="middle" fill="#333">FL11-AECD-A</text>
<text x="209.60" y="41.00" font-size="10.3" text-anchor="start" fill="#222" stroke="#222" stroke-width="0.12">G0/G1:51.23%</text>
<text x="209.60" y="53.55" font-size="10.3" text-anchor="start" fill="#222" stroke="#222" stroke-width="0.12">S:29.86%</text>
<text x="209.60" y="66.10" font-size="10.3" text-anchor="start" fill="#222" stroke="#222" stroke-width="0.12">G2/M:18.91%</text>
<text x="225.50" y="145.30" font-size="10.5" text-anchor="middle" fill="#000" stroke="#000" stroke-width="0.12">siHMGA1</text>
</g>
<g>
<polygon points="300.00,118.50 300.00,118.50 300.42,118.50 300.83,118.50 301.25,118.50 301.67,118.50 302.08,118.50 302.50,118.50 302.92,118.50 303.33,118.50 303.75,118.50 304.17,118.50 304.58,118.50 305.00,118.50 305.42,118.50 305.83,118.50 306.25,118.50 306.67,118.50 307.08,118.50 307.50,118.50 307.92,118.50 308.33,118.50 308.75,118.50 309.17,118.50 309.58,118.50 310.00,118.50 310.42,118.50 310.83,118.50 311.25,118.50 311.67,118.50 312.08,118.50 312.50,118.50 312.92,118.50 313.33,118.50 313.75,118.50 314.17,118.50 314.58,118.50 315.00,118.50 315.42,118.50 315.83,118.50 316.25,118.50 316.67,118.50 317.08,118.50 317.50,118.50 317.92,118.50 318.33,118.34 318.75,118.13 319.17,117.93 319.58,117.72 320.00,117.52 320.42,117.31 320.83,117.11 321.25,116.90 321.67,116.69 322.08,116.49 322.50,116.28 322.92,116.08 323.33,115.87 323.75,115.67 324.17,115.46 324.58,115.26 325.00,115.05 325.42,114.85 325.83,114.64 326.25,114.44 326.67,114.23 327.08,114.03 327.50,113.82 327.92,113.62 328.33,113.41 328.75,113.21 329.17,113.00 329.58,112.80 330.00,112.59 330.42,112.39 330.83,112.18 331.25,111.98 331.67,111.77 332.08,111.57 332.50,111.36 332.92,111.16 333.33,110.95 333.75,110.75 334.17,110.54 334.58,110.34 335.00,110.13 335.42,109.93 335.83,109.72 336.25,109.52 336.67,109.31 337.08,109.11 337.50,108.90 337.92,108.69 338.33,108.49 338.75,108.46 339.17,108.46 339.58,108.46 340.00,108.46 340.42,108.46 340.83,108.46 341.25,108.46 341.67,108.46 342.08,108.46 342.50,108.46 342.92,108.46 343.33,108.46 343.75,108.46 344.17,108.46 344.58,108.46 345.00,108.46 345.42,108.46 345.83,108.46 346.25,108.46 346.67,108.46 347.08,108.46 347.50,108.46 347.92,108.46 348.33,108.46 348.75,108.46 349.17,108.46 349.58,108.46 350.00,108.46 350.42,108.46 350.83,108.46 351.25,108.46 351.67,108.46 352.08,108.46 352.50,108.46 352.92,108.46 353.33,108.46 353.75,108.46 354.17,108.46 354.58,108.46 355.00,108.70 355.42,109.21 355.83,109.72 356.25,110.23 356.67,110.74 357.08,111.25 357.50,111.76 357.92,112.27 358.33,112.78 358.75,113.29 359.17,113.81 359.58,114.32 360.00,114.83 360.42,115.34 360.83,115.85 361.25,116.36 361.67,116.87 362.08,117.38 362.50,117.89 362.92,118.40 363.33,118.50 363.75,118.50 364.17,118.50 364.58,118.50 365.00,118.50 365.42,118.50 365.83,118.50 366.25,118.50 366.67,118.50 367.08,118.50 367.50,118.50 367.92,118.50 368.33,118.50 368.75,118.50 369.17,118.50 369.58,118.50 370.00,118.50 370.42,118.50 370.83,118.50 371.25,118.50 371.67,118.50 372.08,118.50 372.50,118.50 372.92,118.50 373.33,118.50 373.75,118.50 374.17,118.50 374.58,118.50 375.00,118.50 375.42,118.50 375.83,118.50 376.25,118.50 376.67,118.50 377.08,118.50 377.50,118.50 377.92,118.50 378.33,118.50 378.75,118.50 379.17,118.50 379.58,118.50 380.00,118.50 380.42,118.50 380.83,118.50 381.25,118.50 381.67,118.50 382.08,118.50 382.50,118.50 382.92,118.50 383.33,118.50 383.75,118.50 384.17,118.50 384.58,118.50 385.00,118.50 385.42,118.50 385.83,118.50 386.25,118.50 386.67,118.50 387.08,118.50 387.50,118.50 387.92,118.50 388.33,118.50 388.75,118.50 389.17,118.50 389.58,118.50 390.00,118.50 390.42,118.50 390.83,118.50 391.25,118.50 391.67,118.50 392.08,118.50 392.50,118.50 392.92,118.50 393.33,118.50 393.75,118.50 394.17,118.50 394.58,118.50 395.00,118.50 395.42,118.50 395.83,118.50 396.25,118.50 396.67,118.50 397.08,118.50 397.50,118.50 397.92,118.50 398.33,118.50 398.75,118.50 399.17,118.50 399.58,118.50 400.00,118.50 400.00,118.50" fill="#d8d6f2"/>
<polygon points="300.00,118.50 300.00,118.50 300.42,118.50 300.83,118.50 301.25,118.50 301.67,118.50 302.08,118.50 302.50,118.50 302.92,118.50 303.33,118.50 303.75,118.50 304.17,118.50 304.58,118.50 305.00,118.50 305.42,118.50 305.83,118.50 306.25,118.49 306.67,118.49 307.08,118.49 307.50,118.49 307.92,118.48 308.33,118.48 308.75,118.47 309.17,118.47 309.58,118.46 310.00,118.45 310.42,118.44 310.83,118.42 311.25,118.41 311.67,118.38 312.08,118.36 312.50,118.32 312.92,118.28 313.33,118.24 313.75,118.18 314.17,118.11 314.58,118.03 315.00,117.93 315.42,117.81 315.83,117.67 316.25,117.51 316.67,117.32 317.08,117.10 317.50,116.84 317.92,116.54 318.33,116.19 318.75,115.79 319.17,115.33 319.58,114.81 320.00,114.21 320.42,113.54 320.83,112.77 321.25,111.91 321.67,110.95 322.08,109.88 322.50,108.70 322.92,107.39 323.33,105.95 323.75,104.39 324.17,102.69 324.58,100.85 325.00,98.89 325.42,96.79 325.83,94.57 326.25,92.23 326.67,89.80 327.08,87.28 327.50,84.70 327.92,82.09 328.33,79.47 328.75,76.88 329.17,74.36 329.58,71.96 330.00,69.72 330.42,67.71 330.83,66.01 331.25,64.69 331.67,63.89 332.08,64.10 332.50,65.11 332.92,66.58 333.33,68.41 333.75,70.50 334.17,72.80 334.58,75.26 335.00,77.81 335.42,80.41 335.83,83.03 336.25,85.64 336.67,88.20 337.08,90.69 337.50,93.09 337.92,95.38 338.33,97.56 338.75,99.61 339.17,101.53 339.58,103.32 340.00,104.97 340.42,106.49 340.83,107.87 341.25,109.14 341.67,110.28 342.08,111.31 342.50,112.23 342.92,113.06 343.33,113.79 343.75,114.44 344.17,115.01 344.58,115.51 345.00,115.94 345.42,116.33 345.83,116.65 346.25,116.94 346.67,117.18 347.08,117.39 347.50,117.56 347.92,117.42 348.33,117.27 348.75,117.10 349.17,116.91 349.58,116.70 350.00,116.48 350.42,116.23 350.83,115.96 351.25,115.67 351.67,115.36 352.08,115.03 352.50,114.68 352.92,114.31 353.33,113.92 353.75,113.51 354.17,113.09 354.58,112.65 355.00,112.20 355.42,111.74 355.83,111.28 356.25,110.81 356.67,110.34 357.08,109.88 357.50,109.43 357.92,108.98 358.33,108.56 358.75,108.15 359.17,107.76 359.58,107.41 360.00,107.08 360.42,106.79 360.83,106.54 361.25,106.33 361.67,106.16 362.08,106.03 362.50,105.95 362.92,105.92 363.33,105.93 363.75,105.99 364.17,106.10 364.58,106.25 365.00,106.45 365.42,106.69 365.83,106.96 366.25,107.27 366.67,107.62 367.08,107.99 367.50,108.39 367.92,108.81 368.33,109.25 368.75,109.70 369.17,110.16 369.58,110.62 370.00,111.09 370.42,111.56 370.83,112.02 371.25,112.47 371.67,112.91 372.08,113.34 372.50,113.76 372.92,114.15 373.33,114.53 373.75,114.89 374.17,115.23 374.58,115.55 375.00,115.85 375.42,116.12 375.83,116.38 376.25,116.61 376.67,116.83 377.08,117.03 377.50,117.20 377.92,117.37 378.33,117.51 378.75,117.64 379.17,117.75 379.58,117.86 380.00,117.95 380.42,118.03 380.83,118.10 381.25,118.16 381.67,118.21 382.08,118.25 382.50,118.29 382.92,118.33 383.33,118.36 383.75,118.38 384.17,118.40 384.58,118.42 385.00,118.43 385.42,118.45 385.83,118.46 386.25,118.46 386.67,118.47 387.08,118.48 387.50,118.48 387.92,118.48 388.33,118.49 388.75,118.49 389.17,118.49 389.58,118.49 390.00,118.50 390.42,118.50 390.83,118.50 391.25,118.50 391.67,118.50 392.08,118.50 392.50,118.50 392.92,118.50 393.33,118.50 393.75,118.50 394.17,118.50 394.58,118.50 395.00,118.50 395.42,118.50 395.83,118.50 396.25,118.50 396.67,118.50 397.08,118.50 397.50,118.50 397.92,118.50 398.33,118.50 398.75,118.50 399.17,118.50 399.58,118.50 400.00,118.50 400.00,118.50" fill="#f20404"/>
<polygon points="300.00,118.50 300.00,118.50 300.42,118.50 300.83,118.50 301.25,118.50 301.67,118.50 302.08,118.50 302.50,118.50 302.92,118.50 303.33,118.50 303.75,118.50 304.17,118.50 304.58,118.50 305.00,118.50 305.42,118.50 305.83,118.50 306.25,118.50 306.67,118.50 307.08,118.50 307.50,118.50 307.92,118.50 308.33,118.50 308.75,118.50 309.17,118.50 309.58,118.50 310.00,118.50 310.42,118.50 310.83,118.50 311.25,118.50 311.67,118.50 312.08,118.50 312.50,118.50 312.92,118.50 313.33,118.50 313.75,118.50 314.17,118.50 314.58,118.50 315.00,118.50 315.42,118.50 315.83,118.50 316.25,118.50 316.67,118.50 317.08,118.50 317.50,118.50 317.92,118.50 318.33,118.34 318.75,118.13 319.17,117.93 319.58,117.72 320.00,117.52 320.42,117.31 320.83,117.11 321.25,116.90 321.67,116.69 322.08,116.49 322.50,116.28 322.92,116.08 323.33,115.87 323.75,115.67 324.17,115.46 324.58,115.26 325.00,115.05 325.42,114.85 325.83,114.64 326.25,114.44 326.67,114.23 327.08,114.03 327.50,113.82 327.92,113.62 328.33,113.41 328.75,113.21 329.17,113.00 329.58,112.80 330.00,112.59 330.42,112.39 330.83,112.18 331.25,111.98 331.67,111.77 332.08,111.57 332.50,111.36 332.92,111.16 333.33,110.95 333.75,110.75 334.17,110.54 334.58,110.34 335.00,110.13 335.42,109.93 335.83,109.72 336.25,109.52 336.67,109.31 337.08,109.11 337.50,108.90 337.92,108.69 338.33,108.49 338.75,108.53 339.17,108.62 339.58,108.71 340.00,108.79 340.42,108.88 340.83,108.97 341.25,109.14 341.67,110.28 342.08,111.31 342.50,112.23 342.92,113.06 343.33,113.79 343.75,114.44 344.17,115.01 344.58,115.51 345.00,115.94 345.42,116.33 345.83,116.65 346.25,116.94 346.67,117.18 347.08,117.39 347.50,117.56 347.92,117.42 348.33,117.27 348.75,117.10 349.17,116.91 349.58,116.70 350.00,116.48 350.42,116.23 350.83,115.96 351.25,115.67 351.67,115.36 352.08,115.03 352.50,114.68 352.92,114.31 353.33,113.92 353.75,113.51 354.17,113.09 354.58,112.65 355.00,112.20 355.42,112.03 355.83,112.12 356.25,112.21 356.67,112.29 357.08,112.38 357.50,112.47 357.92,112.56 358.33,112.65 358.75,112.73 359.17,112.82 359.58,112.91 360.00,113.00 360.42,113.08 360.83,113.17 361.25,113.26 361.67,113.35 362.08,113.43 362.50,113.52 362.92,113.61 363.33,113.70 363.75,113.78 364.17,113.87 364.58,113.96 365.00,114.05 365.42,114.13 365.83,114.22 366.25,114.31 366.67,114.40 367.08,114.48 367.50,114.57 367.92,114.66 368.33,114.75 368.75,114.83 369.17,114.92 369.58,115.01 370.00,115.10 370.42,115.18 370.83,115.27 371.25,115.36 371.67,115.45 372.08,115.53 372.50,115.62 372.92,115.71 373.33,115.80 373.75,115.88 374.17,115.97 374.58,116.06 375.00,116.15 375.42,116.23 375.83,116.38 376.25,116.61 376.67,116.83 377.08,117.03 377.50,117.20 377.92,117.37 378.33,117.51 378.75,117.64 379.17,117.75 379.58,117.86 380.00,117.95 380.42,118.03 380.83,118.10 381.25,118.16 381.67,118.21 382.08,118.25 382.50,118.29 382.92,118.33 383.33,118.36 383.75,118.38 384.17,118.40 384.58,118.42 385.00,118.43 385.42,118.45 385.83,118.46 386.25,118.50 386.67,118.50 387.08,118.50 387.50,118.50 387.92,118.50 388.33,118.50 388.75,118.50 389.17,118.50 389.58,118.50 390.00,118.50 390.42,118.50 390.83,118.50 391.25,118.50 391.67,118.50 392.08,118.50 392.50,118.50 392.92,118.50 393.33,118.50 393.75,118.50 394.17,118.50 394.58,118.50 395.00,118.50 395.42,118.50 395.83,118.50 396.25,118.50 396.67,118.50 397.08,118.50 397.50,118.50 397.92,118.50 398.33,118.50 398.75,118.50 399.17,118.50 399.58,118.50 400.00,118.50 400.00,118.50" fill="#c80a30"/>
<polyline points="300.00,118.50 300.42,118.50 300.83,118.50 301.25,118.50 301.67,118.49 302.08,118.49 302.50,118.49 302.92,118.49 303.33,118.48 303.75,118.48 304.17,118.47 304.58,118.46 305.00,118.45 305.42,118.44 305.83,118.42 306.25,118.40 306.67,118.38 307.08,118.35 307.50,118.32 307.92,118.28 308.33,118.23 308.75,118.18 309.17,118.12 309.58,118.05 310.00,117.97 310.42,117.88 310.83,117.77 311.25,117.66 311.67,117.53 312.08,117.38 312.50,117.23 312.92,117.05 313.33,116.86 313.75,116.65 314.17,116.43 314.58,116.18 315.00,115.92 315.42,115.64 315.83,115.34 316.25,115.01 316.67,114.66 317.08,114.28 317.50,113.88 317.92,113.44 318.33,112.79 318.75,112.06 319.17,111.29 319.58,110.47 320.00,109.58 320.42,108.63 320.83,107.61 321.25,106.50 321.67,105.31 322.08,104.01 322.50,102.61 322.92,101.09 323.33,99.45 323.75,97.67 324.17,95.77 324.58,93.72 325.00,91.54 325.42,89.22 325.83,86.76 326.25,84.19 326.67,81.50 327.08,78.72 327.50,75.87 327.92,72.97 328.33,70.06 328.75,67.17 329.17,64.35 329.58,61.65 330.00,59.11 330.42,56.82 330.83,54.84 331.25,53.27 331.67,52.26 332.08,52.33 332.50,53.25 332.92,54.67 333.33,56.46 333.75,58.54 334.17,60.84 334.58,63.30 335.00,65.86 335.42,68.47 335.83,71.10 336.25,73.71 336.67,76.27 337.08,78.75 337.50,81.14 337.92,83.40 338.33,85.54 338.75,87.72 339.17,89.79 339.58,91.72 340.00,93.50 340.42,95.13 340.83,96.62 341.25,97.97 341.67,99.19 342.08,100.28 342.50,101.25 342.92,102.12 343.33,102.88 343.75,103.54 344.17,104.11 344.58,104.60 345.00,105.02 345.42,105.36 345.83,105.64 346.25,105.86 346.67,106.03 347.08,106.14 347.50,106.21 347.92,106.23 348.33,106.21 348.75,106.15 349.17,106.05 349.58,105.91 350.00,105.74 350.42,105.54 350.83,105.29 351.25,105.02 351.67,104.71 352.08,104.36 352.50,103.98 352.92,103.57 353.33,103.13 353.75,102.65 354.17,102.15 354.58,101.61 355.00,101.30 355.42,101.24 355.83,101.15 356.25,101.05 356.67,100.93 357.08,100.80 357.50,100.67 357.92,100.53 358.33,100.26 358.75,99.71 359.17,99.18 359.58,98.68 360.00,98.21 360.42,97.78 360.83,97.40 361.25,97.08 361.67,96.81 362.08,96.62 362.50,96.50 362.92,96.45 363.33,96.49 363.75,96.60 364.17,96.80 364.58,97.07 365.00,97.42 365.42,97.84 365.83,98.34 366.25,98.89 366.67,99.50 367.08,100.16 367.50,100.87 367.92,101.60 368.33,102.36 368.75,103.14 369.17,103.93 369.58,104.72 370.00,105.51 370.42,106.29 370.83,107.05 371.25,107.79 371.67,108.50 372.08,109.19 372.50,109.85 372.92,110.47 373.33,111.06 373.75,111.62 374.17,112.15 374.58,112.64 375.00,113.10 375.42,113.52 375.83,113.92 376.25,114.29 376.67,114.63 377.08,114.94 377.50,115.23 377.92,115.50 378.33,115.75 378.75,115.99 379.17,116.20 379.58,116.40 380.00,116.59 380.42,116.76 380.83,116.92 381.25,117.08 381.67,117.22 382.08,117.36 382.50,117.49 382.92,117.61 383.33,117.73 383.75,117.85 384.17,117.96 384.58,118.07 385.00,118.17 385.42,118.28 385.83,118.38 386.25,118.46 386.67,118.47 387.08,118.48 387.50,118.48 387.92,118.48 388.33,118.49 388.75,118.49 389.17,118.49 389.58,118.49 390.00,118.50 390.42,118.50 390.83,118.50 391.25,118.50 391.67,118.50 392.08,118.50 392.50,118.50 392.92,118.50 393.33,118.50 393.75,118.50 394.17,118.50 394.58,118.50 395.00,118.50 395.42,118.50 395.83,118.50 396.25,118.50 396.67,118.50 397.08,118.50 397.50,118.50 397.92,118.50 398.33,118.50 398.75,118.50 399.17,118.50 399.58,118.50 400.00,118.50" fill="none" stroke="#b4b4b4" stroke-width="0.45"/>
<polyline points="300.00,118.50 300.42,118.50 300.83,118.50 301.25,118.50 301.67,118.50 302.08,118.50 302.50,118.50 302.92,118.49 303.33,118.49 303.75,118.49 304.17,118.48 304.58,118.48 305.00,118.47 305.42,118.46 305.83,118.45 306.25,118.43 306.67,118.41 307.08,118.38 307.50,118.36 307.92,118.32 308.33,118.26 308.75,118.19 309.17,118.11 309.58,118.03 310.00,117.93 310.42,117.84 310.83,117.67 311.25,117.53 311.67,117.30 312.08,117.07 312.50,116.88 312.92,116.60 313.33,116.14 313.75,116.01 314.17,115.37 314.58,114.89 315.00,114.38 315.42,114.16 315.83,113.54 316.25,112.96 316.67,112.33 317.08,111.42 317.50,111.00 317.92,110.69 318.33,109.23 318.75,108.69 319.17,107.57 319.58,106.40 320.00,106.46 320.42,104.21 320.83,103.29 321.25,102.48 321.67,101.25 322.08,100.18 322.50,99.54 322.92,97.39 323.33,97.29 323.75,94.52 324.17,92.46 324.58,91.37 325.00,89.13 325.42,85.70 325.83,83.78 326.25,84.68 326.67,79.47 327.08,77.71 327.50,77.94 327.92,73.51 328.33,71.17 328.75,68.82 329.17,62.15 329.58,55.26 330.00,55.45 330.42,46.70 330.83,43.94 331.25,45.41 331.67,36.03 332.08,37.50 332.50,35.06 332.92,39.10 333.33,42.07 333.75,49.46 334.17,50.17 334.58,54.06 335.00,59.33 335.42,66.48 335.83,68.50 336.25,73.59 336.67,78.60 337.08,81.56 337.50,83.76 337.92,85.40 338.33,87.53 338.75,88.29 339.17,89.55 339.58,91.90 340.00,93.90 340.42,94.76 340.83,97.07 341.25,97.90 341.67,98.33 342.08,100.17 342.50,101.52 342.92,100.83 343.33,101.92 343.75,103.20 344.17,103.71 344.58,103.87 345.00,104.14 345.42,105.07 345.83,105.68 346.25,105.53 346.67,104.75 347.08,105.87 347.50,105.41 347.92,105.84 348.33,105.79 348.75,105.78 349.17,105.31 349.58,105.55 350.00,105.62 350.42,105.29 350.83,104.97 351.25,104.16 351.67,104.63 352.08,104.39 352.50,103.28 352.92,102.99 353.33,102.02 353.75,102.88 354.17,101.74 354.58,101.29 355.00,101.85 355.42,99.92 355.83,101.51 356.25,101.77 356.67,100.92 357.08,101.49 357.50,100.38 357.92,100.80 358.33,100.90 358.75,100.34 359.17,97.95 359.58,98.19 360.00,95.98 360.42,95.90 360.83,93.67 361.25,94.59 361.67,93.94 362.08,93.19 362.50,90.86 362.92,91.01 363.33,91.70 363.75,92.50 364.17,90.76 364.58,90.27 365.00,92.10 365.42,94.71 365.83,95.55 366.25,96.42 366.67,97.34 367.08,98.88 367.50,100.04 367.92,99.91 368.33,100.66 368.75,103.22 369.17,102.92 369.58,104.83 370.00,105.29 370.42,106.05 370.83,106.88 371.25,108.80 371.67,109.15 372.08,109.46 372.50,109.73 372.92,111.13 373.33,111.45 373.75,111.49 374.17,112.53 374.58,112.76 375.00,113.20 375.42,113.38 375.83,113.61 376.25,114.36 376.67,114.40 377.08,114.72 377.50,114.97 377.92,115.35 378.33,115.47 378.75,115.90 379.17,116.09 379.58,116.35 380.00,116.40 380.42,116.65 380.83,116.86 381.25,117.04 381.67,117.09 382.08,117.26 382.50,117.39 382.92,117.56 383.33,117.68 383.75,117.83 384.17,117.90 384.58,118.06 385.00,118.15 385.42,118.25 385.83,118.36 386.25,118.46 386.67,118.47 387.08,118.47 387.50,118.48 387.92,118.48 388.33,118.49 388.75,118.49 389.17,118.49 389.58,118.49 390.00,118.50 390.42,118.50 390.83,118.50 391.25,118.50 391.67,118.50 392.08,118.50 392.50,118.50 392.92,118.50 393.33,118.50 393.75,118.50 394.17,118.50 394.58,118.50 395.00,118.50 395.42,118.50 395.83,118.50 396.25,118.50 396.67,118.50 397.08,118.50 397.50,118.50 397.92,118.50 398.33,118.50 398.75,118.50 399.17,118.50 399.58,118.50 400.00,118.50" fill="none" stroke="#6a6a6a" stroke-width="0.42"/>
<path d="M300.00,33.80V118.50H400.00" fill="none" stroke="#444" stroke-width="0.7"/>
<path d="M300.00,118.50h-2.0 M300.00,116.08h-1.0 M300.00,113.66h-1.0 M300.00,111.24h-1.0 M300.00,108.82h-1.0 M300.00,106.40h-2.0 M300.00,103.98h-1.0 M300.00,101.56h-1.0 M300.00,99.14h-1.0 M300.00,96.72h-1.0 M300.00,94.30h-2.0 M300.00,91.88h-1.0 M300.00,89.46h-1.0 M300.00,87.04h-1.0 M300.00,84.62h-1.0 M300.00,82.20h-2.0 M300.00,79.78h-1.0 M300.00,77.36h-1.0 M300.00,74.94h-1.0 M300.00,72.52h-1.0 M300.00,70.10h-2.0 M300.00,67.68h-1.0 M300.00,65.26h-1.0 M300.00,62.84h-1.0 M300.00,60.42h-1.0 M300.00,58.00h-2.0 M300.00,55.58h-1.0 M300.00,53.16h-1.0 M300.00,50.74h-1.0 M300.00,48.32h-1.0 M300.00,45.90h-2.0 M300.00,43.48h-1.0 M300.00,41.06h-1.0 M300.00,38.64h-1.0 M300.00,36.22h-1.0 M300.00,33.80h-2.0 M300.00,118.50v2.0 M304.00,118.50v1.0 M308.00,118.50v1.0 M312.00,118.50v1.0 M316.00,118.50v1.0 M320.00,118.50v2.0 M324.00,118.50v1.0 M328.00,118.50v1.0 M332.00,118.50v1.0 M336.00,118.50v1.0 M340.00,118.50v2.0 M344.00,118.50v1.0 M348.00,118.50v1.0 M352.00,118.50v1.0 M356.00,118.50v1.0 M360.00,118.50v2.0 M364.00,118.50v1.0 M368.00,118.50v1.0 M372.00,118.50v1.0 M376.00,118.50v1.0 M380.00,118.50v2.0 M384.00,118.50v1.0 M388.00,118.50v1.0 M392.00,118.50v1.0 M396.00,118.50v1.0 M400.00,118.50v2.0" stroke="#444" stroke-width="0.5"/>
<text x="297.30" y="118.50" font-size="6.5" text-anchor="middle" fill="#2a2a2a" transform="rotate(-90 297.30 118.50)">0</text>
<text x="297.30" y="106.40" font-size="6.5" text-anchor="middle" fill="#2a2a2a" transform="rotate(-90 297.30 106.40)">100</text>
<text x="297.30" y="94.30" font-size="6.5" text-anchor="middle" fill="#2a2a2a" transform="rotate(-90 297.30 94.30)">200</text>
<text x="297.30" y="82.20" font-size="6.5" text-anchor="middle" fill="#2a2a2a" transform="rotate(-90 297.30 82.20)">300</text>
<text x="297.30" y="70.10" font-size="6.5" text-anchor="middle" fill="#2a2a2a" transform="rotate(-90 297.30 70.10)">400</text>
<text x="297.30" y="58.00" font-size="6.5" text-anchor="middle" fill="#2a2a2a" transform="rotate(-90 297.30 58.00)">500</text>
<text x="297.30" y="45.90" font-size="6.5" text-anchor="middle" fill="#2a2a2a" transform="rotate(-90 297.30 45.90)">600</text>
<text x="297.30" y="33.80" font-size="6.5" text-anchor="middle" fill="#2a2a2a" transform="rotate(-90 297.30 33.80)">700</text>
<text x="300.00" y="126.30" font-size="6.4" text-anchor="middle" fill="#2a2a2a">0</text>
<text x="320.00" y="126.30" font-size="6.4" text-anchor="middle" fill="#2a2a2a">10</text>
<text x="340.00" y="126.30" font-size="6.4" text-anchor="middle" fill="#2a2a2a">20</text>
<text x="360.00" y="126.30" font-size="6.4" text-anchor="middle" fill="#2a2a2a">30</text>
<text x="380.00" y="126.30" font-size="6.4" text-anchor="middle" fill="#2a2a2a">40</text>
<text x="400.00" y="126.30" font-size="6.4" text-anchor="middle" fill="#2a2a2a">50</text>
<text x="288.60" y="76.15" font-size="6.3" text-anchor="middle" fill="#2a2a2a" transform="rotate(-90 288.60 76.15)">Number</text>
<text x="350.00" y="131.80" font-size="5.6" text-anchor="middle" fill="#333">FL11-AECD-A</text>
<text x="336.40" y="41.00" font-size="10.3" text-anchor="start" fill="#222" stroke="#222" stroke-width="0.12">G0/G1:49.01%</text>
<text x="336.40" y="53.55" font-size="10.3" text-anchor="start" fill="#222" stroke="#222" stroke-width="0.12">S:28.44%</text>
<text x="336.40" y="66.10" font-size="10.3" text-anchor="start" fill="#222" stroke="#222" stroke-width="0.12">G2/M:22.55%</text>
<text x="353.70" y="145.30" font-size="10.5" text-anchor="middle" fill="#000" stroke="#000" stroke-width="0.12">siFOXM1</text>
</g>
<g>
<polygon points="426.00,118.20 426.00,118.20 426.41,118.20 426.82,118.20 427.24,118.20 427.65,118.20 428.06,118.20 428.48,118.20 428.89,118.20 429.30,118.20 429.71,118.20 430.12,118.20 430.54,118.20 430.95,118.20 431.36,118.20 431.77,118.20 432.19,118.20 432.60,118.20 433.01,118.20 433.43,118.20 433.84,118.20 434.25,118.20 434.66,118.20 435.07,118.20 435.49,118.20 435.90,118.20 436.31,118.20 436.73,118.20 437.14,118.20 437.55,118.20 437.96,118.20 438.38,118.20 438.79,118.20 439.20,118.20 439.61,118.20 440.02,118.20 440.44,118.20 440.85,118.20 441.26,118.20 441.68,118.20 442.09,118.20 442.50,118.20 442.91,118.20 443.32,118.20 443.74,118.20 444.15,118.20 444.56,118.20 444.98,118.20 445.39,118.20 445.80,118.20 446.21,118.16 446.62,117.98 447.04,117.79 447.45,117.61 447.86,117.43 448.27,117.24 448.69,117.06 449.10,116.87 449.51,116.69 449.93,116.51 450.34,116.32 450.75,116.14 451.16,115.95 451.57,115.77 451.99,115.58 452.40,115.40 452.81,115.22 453.23,115.03 453.64,114.85 454.05,114.66 454.46,114.48 454.88,114.30 455.29,114.11 455.70,113.93 456.11,113.74 456.52,113.56 456.94,113.37 457.35,113.19 457.76,113.01 458.18,112.82 458.59,112.64 459.00,112.45 459.41,112.27 459.82,112.08 460.24,111.90 460.65,111.72 461.06,111.53 461.48,111.35 461.89,111.16 462.30,110.98 462.71,110.80 463.12,110.61 463.54,110.43 463.95,110.24 464.36,110.06 464.77,109.87 465.19,109.69 465.60,109.58 466.01,109.58 466.43,109.58 466.84,109.58 467.25,109.58 467.66,109.58 468.07,109.58 468.49,109.58 468.90,109.58 469.31,109.58 469.73,109.58 470.14,109.58 470.55,109.58 470.96,109.58 471.38,109.58 471.79,109.58 472.20,109.58 472.61,109.58 473.02,109.58 473.44,109.58 473.85,109.58 474.26,109.58 474.68,109.58 475.09,109.58 475.50,109.58 475.91,109.58 476.32,109.58 476.74,109.58 477.15,109.58 477.56,109.58 477.98,109.58 478.39,109.58 478.80,109.72 479.21,110.07 479.62,110.43 480.04,110.78 480.45,111.13 480.86,111.49 481.27,111.84 481.69,112.19 482.10,112.55 482.51,112.90 482.93,113.25 483.34,113.61 483.75,113.96 484.16,114.31 484.57,114.67 484.99,115.02 485.40,115.37 485.81,115.73 486.23,116.08 486.64,116.43 487.05,116.79 487.46,117.14 487.88,117.49 488.29,117.85 488.70,118.20 489.11,118.20 489.52,118.20 489.94,118.20 490.35,118.20 490.76,118.20 491.18,118.20 491.59,118.20 492.00,118.20 492.41,118.20 492.82,118.20 493.24,118.20 493.65,118.20 494.06,118.20 494.48,118.20 494.89,118.20 495.30,118.20 495.71,118.20 496.12,118.20 496.54,118.20 496.95,118.20 497.36,118.20 497.77,118.20 498.19,118.20 498.60,118.20 499.01,118.20 499.43,118.20 499.84,118.20 500.25,118.20 500.66,118.20 501.07,118.20 501.49,118.20 501.90,118.20 502.31,118.20 502.73,118.20 503.14,118.20 503.55,118.20 503.96,118.20 504.38,118.20 504.79,118.20 505.20,118.20 505.61,118.20 506.02,118.20 506.44,118.20 506.85,118.20 507.26,118.20 507.68,118.20 508.09,118.20 508.50,118.20 508.91,118.20 509.32,118.20 509.74,118.20 510.15,118.20 510.56,118.20 510.98,118.20 511.39,118.20 511.80,118.20 512.21,118.20 512.62,118.20 513.04,118.20 513.45,118.20 513.86,118.20 514.27,118.20 514.69,118.20 515.10,118.20 515.51,118.20 515.92,118.20 516.34,118.20 516.75,118.20 517.16,118.20 517.58,118.20 517.99,118.20 518.40,118.20 518.81,118.20 519.23,118.20 519.64,118.20 520.05,118.20 520.46,118.20 520.88,118.20 521.29,118.20 521.70,118.20 522.11,118.20 522.52,118.20 522.94,118.20 523.35,118.20 523.76,118.20 524.17,118.20 524.59,118.20 525.00,118.20 525.00,118.20" fill="#d8d6f2"/>
<polygon points="426.00,118.20 426.00,118.20 426.41,118.20 426.82,118.20 427.24,118.20 427.65,118.20 428.06,118.20 428.48,118.20 428.89,118.20 429.30,118.20 429.71,118.20 430.12,118.20 430.54,118.20 430.95,118.20 431.36,118.19 431.77,118.19 432.19,118.19 432.60,118.19 433.01,118.18 433.43,118.18 433.84,118.18 434.25,118.17 434.66,118.16 435.07,118.15 435.49,118.14 435.90,118.12 436.31,118.11 436.73,118.09 437.14,118.06 437.55,118.03 437.96,117.99 438.38,117.94 438.79,117.89 439.20,117.82 439.61,117.74 440.02,117.65 440.44,117.53 440.85,117.40 441.26,117.24 441.68,117.06 442.09,116.85 442.50,116.60 442.91,116.31 443.32,115.97 443.74,115.58 444.15,115.14 444.56,114.63 444.98,114.05 445.39,113.39 445.80,112.65 446.21,111.81 446.62,110.87 447.04,109.82 447.45,108.66 447.86,107.37 448.27,105.95 448.69,104.39 449.10,102.70 449.51,100.86 449.93,98.88 450.34,96.76 450.75,94.49 451.16,92.10 451.57,89.59 451.99,86.97 452.40,84.25 452.81,81.47 453.23,78.65 453.64,75.82 454.05,73.01 454.46,70.27 454.88,67.65 455.29,65.19 455.70,62.96 456.11,61.03 456.52,59.49 456.94,58.46 457.35,58.34 457.76,59.24 458.18,60.69 458.59,62.55 459.00,64.72 459.41,67.14 459.82,69.74 460.24,72.46 460.65,75.26 461.06,78.09 461.48,80.91 461.89,83.70 462.30,86.43 462.71,89.07 463.12,91.61 463.54,94.03 463.95,96.31 464.36,98.47 464.77,100.47 465.19,102.34 465.60,104.06 466.01,105.65 466.43,107.09 466.84,108.41 467.25,109.60 467.66,110.67 468.07,111.63 468.49,112.49 468.90,113.25 469.31,113.93 469.73,114.52 470.14,115.04 470.55,115.50 470.96,115.90 471.38,116.24 471.79,116.54 472.20,116.80 472.61,117.02 473.02,117.21 473.44,117.37 473.85,117.43 474.26,117.31 474.68,117.17 475.09,117.02 475.50,116.85 475.91,116.67 476.32,116.46 476.74,116.24 477.15,116.00 477.56,115.73 477.98,115.45 478.39,115.14 478.80,114.82 479.21,114.48 479.62,114.12 480.04,113.74 480.45,113.35 480.86,112.94 481.27,112.53 481.69,112.11 482.10,111.68 482.51,111.25 482.93,110.82 483.34,110.40 483.75,109.99 484.16,109.60 484.57,109.22 484.99,108.86 485.40,108.53 485.81,108.22 486.23,107.95 486.64,107.72 487.05,107.52 487.46,107.37 487.88,107.26 488.29,107.19 488.70,107.17 489.11,107.19 489.52,107.26 489.94,107.37 490.35,107.52 490.76,107.72 491.18,107.95 491.59,108.22 492.00,108.53 492.41,108.86 492.82,109.22 493.24,109.60 493.65,109.99 494.06,110.40 494.48,110.82 494.89,111.25 495.30,111.68 495.71,112.11 496.12,112.53 496.54,112.94 496.95,113.35 497.36,113.74 497.77,114.12 498.19,114.48 498.60,114.82 499.01,115.14 499.43,115.45 499.84,115.73 500.25,116.00 500.66,116.24 501.07,116.46 501.49,116.67 501.90,116.85 502.31,117.02 502.73,117.17 503.14,117.31 503.55,117.43 503.96,117.54 504.38,117.63 504.79,117.72 505.20,117.79 505.61,117.85 506.02,117.91 506.44,117.95 506.85,117.99 507.26,118.03 507.68,118.06 508.09,118.08 508.50,118.10 508.91,118.12 509.32,118.14 509.74,118.15 510.15,118.16 510.56,118.17 510.98,118.17 511.39,118.18 511.80,118.18 512.21,118.19 512.62,118.19 513.04,118.19 513.45,118.19 513.86,118.19 514.27,118.20 514.69,118.20 515.10,118.20 515.51,118.20 515.92,118.20 516.34,118.20 516.75,118.20 517.16,118.20 517.58,118.20 517.99,118.20 518.40,118.20 518.81,118.20 519.23,118.20 519.64,118.20 520.05,118.20 520.46,118.20 520.88,118.20 521.29,118.20 521.70,118.20 522.11,118.20 522.52,118.20 522.94,118.20 523.35,118.20 523.76,118.20 524.17,118.20 524.59,118.20 525.00,118.20 525.00,118.20" fill="#f20404"/>
<polygon points="426.00,118.20 426.00,118.20 426.41,118.20 426.82,118.20 427.24,118.20 427.65,118.20 428.06,118.20 428.48,118.20 428.89,118.20 429.30,118.20 429.71,118.20 430.12,118.20 430.54,118.20 430.95,118.20 431.36,118.20 431.77,118.20 432.19,118.20 432.60,118.20 433.01,118.20 433.43,118.20 433.84,118.20 434.25,118.20 434.66,118.20 435.07,118.20 435.49,118.20 435.90,118.20 436.31,118.20 436.73,118.20 437.14,118.20 437.55,118.20 437.96,118.20 438.38,118.20 438.79,118.20 439.20,118.20 439.61,118.20 440.02,118.20 440.44,118.20 440.85,118.20 441.26,118.20 441.68,118.20 442.09,118.20 442.50,118.20 442.91,118.20 443.32,118.20 443.74,118.20 444.15,118.20 444.56,118.20 444.98,118.20 445.39,118.20 445.80,118.20 446.21,118.16 446.62,117.98 447.04,117.79 447.45,117.61 447.86,117.43 448.27,117.24 448.69,117.06 449.10,116.87 449.51,116.69 449.93,116.51 450.34,116.32 450.75,116.14 451.16,115.95 451.57,115.77 451.99,115.58 452.40,115.40 452.81,115.22 453.23,115.03 453.64,114.85 454.05,114.66 454.46,114.48 454.88,114.30 455.29,114.11 455.70,113.93 456.11,113.74 456.52,113.56 456.94,113.37 457.35,113.19 457.76,113.01 458.18,112.82 458.59,112.64 459.00,112.45 459.41,112.27 459.82,112.08 460.24,111.90 460.65,111.72 461.06,111.53 461.48,111.35 461.89,111.16 462.30,110.98 462.71,110.80 463.12,110.61 463.54,110.43 463.95,110.24 464.36,110.06 464.77,109.87 465.19,109.69 465.60,109.61 466.01,109.69 466.43,109.77 466.84,109.85 467.25,109.93 467.66,110.67 468.07,111.63 468.49,112.49 468.90,113.25 469.31,113.93 469.73,114.52 470.14,115.04 470.55,115.50 470.96,115.90 471.38,116.24 471.79,116.54 472.20,116.80 472.61,117.02 473.02,117.21 473.44,117.37 473.85,117.43 474.26,117.31 474.68,117.17 475.09,117.02 475.50,116.85 475.91,116.67 476.32,116.46 476.74,116.24 477.15,116.00 477.56,115.73 477.98,115.45 478.39,115.14 478.80,114.82 479.21,114.48 479.62,114.12 480.04,113.74 480.45,113.35 480.86,112.94 481.27,112.67 481.69,112.75 482.10,112.83 482.51,112.91 482.93,112.99 483.34,113.07 483.75,113.15 484.16,113.23 484.57,113.31 484.99,113.39 485.40,113.47 485.81,113.55 486.23,113.63 486.64,113.71 487.05,113.79 487.46,113.87 487.88,113.95 488.29,114.03 488.70,114.12 489.11,114.20 489.52,114.28 489.94,114.36 490.35,114.44 490.76,114.52 491.18,114.60 491.59,114.68 492.00,114.76 492.41,114.84 492.82,114.92 493.24,115.00 493.65,115.08 494.06,115.16 494.48,115.24 494.89,115.32 495.30,115.40 495.71,115.48 496.12,115.56 496.54,115.64 496.95,115.72 497.36,115.80 497.77,115.88 498.19,115.96 498.60,116.05 499.01,116.13 499.43,116.21 499.84,116.29 500.25,116.37 500.66,116.45 501.07,116.53 501.49,116.67 501.90,116.85 502.31,117.02 502.73,117.17 503.14,117.31 503.55,117.43 503.96,117.54 504.38,117.63 504.79,117.72 505.20,117.79 505.61,117.85 506.02,117.91 506.44,117.95 506.85,117.99 507.26,118.03 507.68,118.06 508.09,118.08 508.50,118.10 508.91,118.12 509.32,118.14 509.74,118.20 510.15,118.20 510.56,118.20 510.98,118.20 511.39,118.20 511.80,118.20 512.21,118.20 512.62,118.20 513.04,118.20 513.45,118.20 513.86,118.20 514.27,118.20 514.69,118.20 515.10,118.20 515.51,118.20 515.92,118.20 516.34,118.20 516.75,118.20 517.16,118.20 517.58,118.20 517.99,118.20 518.40,118.20 518.81,118.20 519.23,118.20 519.64,118.20 520.05,118.20 520.46,118.20 520.88,118.20 521.29,118.20 521.70,118.20 522.11,118.20 522.52,118.20 522.94,118.20 523.35,118.20 523.76,118.20 524.17,118.20 524.59,118.20 525.00,118.20 525.00,118.20" fill="#c80a30"/>
<polyline points="426.00,118.20 426.41,118.19 426.82,118.19 427.24,118.19 427.65,118.19 428.06,118.18 428.48,118.18 428.89,118.17 429.30,118.17 429.71,118.16 430.12,118.15 430.54,118.13 430.95,118.12 431.36,118.10 431.77,118.08 432.19,118.05 432.60,118.01 433.01,117.98 433.43,117.93 433.84,117.88 434.25,117.81 434.66,117.74 435.07,117.66 435.49,117.57 435.90,117.46 436.31,117.34 436.73,117.21 437.14,117.07 437.55,116.90 437.96,116.72 438.38,116.53 438.79,116.32 439.20,116.08 439.61,115.83 440.02,115.56 440.44,115.27 440.85,114.96 441.26,114.63 441.68,114.27 442.09,113.88 442.50,113.46 442.91,113.02 443.32,112.53 443.74,112.01 444.15,111.44 444.56,110.83 444.98,110.15 445.39,109.42 445.80,108.61 446.21,107.68 446.62,106.51 447.04,105.25 447.45,103.88 447.86,102.39 448.27,100.78 448.69,99.04 449.10,97.16 449.51,95.14 449.93,92.97 450.34,90.65 450.75,88.19 451.16,85.59 451.57,82.85 451.99,79.99 452.40,77.04 452.81,74.00 453.23,70.91 453.64,67.81 454.05,64.72 454.46,61.69 454.88,58.78 455.29,56.04 455.70,53.53 456.11,51.35 456.52,49.57 456.94,48.33 457.35,48.07 457.76,48.90 458.18,50.32 458.59,52.18 459.00,54.37 459.41,56.82 459.82,59.46 460.24,62.23 460.65,65.07 461.06,67.95 461.48,70.83 461.89,73.66 462.30,76.42 462.71,79.09 463.12,81.64 463.54,84.07 463.95,86.35 464.36,88.48 464.77,90.46 465.19,92.29 465.60,94.03 466.01,95.74 466.43,97.30 466.84,98.71 467.25,99.99 467.66,101.14 468.07,102.16 468.49,103.07 468.90,103.88 469.31,104.59 469.73,105.21 470.14,105.74 470.55,106.20 470.96,106.59 471.38,106.91 471.79,107.18 472.20,107.40 472.61,107.56 473.02,107.68 473.44,107.76 473.85,107.80 474.26,107.80 474.68,107.77 475.09,107.70 475.50,107.60 475.91,107.46 476.32,107.30 476.74,107.10 477.15,106.87 477.56,106.61 477.98,106.31 478.39,105.99 478.80,105.77 479.21,105.74 479.62,105.68 480.04,105.58 480.45,105.45 480.86,105.29 481.27,105.10 481.69,104.89 482.10,104.66 482.51,104.41 482.93,103.87 483.34,103.33 483.75,102.78 484.16,102.25 484.57,101.74 484.99,101.26 485.40,100.82 485.81,100.42 486.23,100.09 486.64,99.81 487.05,99.61 487.46,99.48 487.88,99.44 488.29,99.47 488.70,99.58 489.11,99.78 489.52,100.05 489.94,100.40 490.35,100.81 490.76,101.28 491.18,101.81 491.59,102.37 492.00,102.98 492.41,103.61 492.82,104.26 493.24,104.92 493.65,105.59 494.06,106.26 494.48,106.92 494.89,107.57 495.30,108.20 495.71,108.82 496.12,109.42 496.54,110.00 496.95,110.55 497.36,111.08 497.77,111.58 498.19,112.06 498.60,112.51 499.01,112.94 499.43,113.35 499.84,113.73 500.25,114.08 500.66,114.42 501.07,114.73 501.49,115.02 501.90,115.29 502.31,115.54 502.73,115.78 503.14,116.00 503.55,116.20 503.96,116.39 504.38,116.57 504.79,116.74 505.20,116.89 505.61,117.04 506.02,117.18 506.44,117.31 506.85,117.43 507.26,117.55 507.68,117.66 508.09,117.77 508.50,117.87 508.91,117.97 509.32,118.07 509.74,118.15 510.15,118.16 510.56,118.17 510.98,118.17 511.39,118.18 511.80,118.18 512.21,118.19 512.62,118.19 513.04,118.19 513.45,118.19 513.86,118.19 514.27,118.20 514.69,118.20 515.10,118.20 515.51,118.20 515.92,118.20 516.34,118.20 516.75,118.20 517.16,118.20 517.58,118.20 517.99,118.20 518.40,118.20 518.81,118.20 519.23,118.20 519.64,118.20 520.05,118.20 520.46,118.20 520.88,118.20 521.29,118.20 521.70,118.20 522.11,118.20 522.52,118.20 522.94,118.20 523.35,118.20 523.76,118.20 524.17,118.20 524.59,118.20 525.00,118.20" fill="none" stroke="#b4b4b4" stroke-width="0.45"/>
<polyline points="426.00,118.20 426.41,118.20 426.82,118.20 427.24,118.20 427.65,118.20 428.06,118.19 428.48,118.19 428.89,118.19 429.30,118.18 429.71,118.18 430.12,118.17 430.54,118.16 430.95,118.14 431.36,118.13 431.77,118.11 432.19,118.08 432.60,118.05 433.01,118.02 433.43,117.96 433.84,117.90 434.25,117.85 434.66,117.72 435.07,117.63 435.49,117.49 435.90,117.40 436.31,117.19 436.73,117.01 437.14,116.74 437.55,116.61 437.96,116.27 438.38,115.92 438.79,115.69 439.20,115.14 439.61,114.62 440.02,114.29 440.44,113.66 440.85,113.13 441.26,112.81 441.68,112.11 442.09,110.95 442.50,110.83 442.91,110.05 443.32,109.70 443.74,108.83 444.15,108.14 444.56,106.34 444.98,105.76 445.39,104.66 445.80,103.55 446.21,103.19 446.62,101.40 447.04,100.93 447.45,99.91 447.86,97.33 448.27,95.95 448.69,94.25 449.10,93.92 449.51,91.32 449.93,90.67 450.34,86.64 450.75,84.75 451.16,85.02 451.57,79.94 451.99,80.82 452.40,78.72 452.81,72.68 453.23,71.96 453.64,67.34 454.05,62.90 454.46,63.06 454.88,53.72 455.29,52.88 455.70,47.12 456.11,43.62 456.52,36.11 456.94,33.13 457.35,36.43 457.76,38.81 458.18,38.77 458.59,40.78 459.00,47.75 459.41,51.49 459.82,51.40 460.24,56.83 460.65,59.69 461.06,64.15 461.48,68.80 461.89,75.05 462.30,79.14 462.71,81.14 463.12,82.99 463.54,85.07 463.95,87.16 464.36,89.79 464.77,89.97 465.19,93.44 465.60,94.49 466.01,94.93 466.43,96.64 466.84,99.19 467.25,100.46 467.66,100.33 468.07,102.87 468.49,103.44 468.90,103.44 469.31,104.09 469.73,105.26 470.14,105.91 470.55,106.08 470.96,105.59 471.38,106.33 471.79,105.85 472.20,106.32 472.61,106.21 473.02,107.59 473.44,107.45 473.85,107.71 474.26,107.13 474.68,107.22 475.09,107.53 475.50,106.76 475.91,107.25 476.32,106.78 476.74,106.69 477.15,105.67 477.56,105.98 477.98,105.95 478.39,105.99 478.80,105.23 479.21,104.96 479.62,104.91 480.04,104.53 480.45,104.66 480.86,105.47 481.27,105.55 481.69,104.41 482.10,104.15 482.51,104.36 482.93,103.18 483.34,102.96 483.75,102.71 484.16,102.11 484.57,101.57 484.99,99.29 485.40,97.73 485.81,96.75 486.23,96.99 486.64,95.75 487.05,94.48 487.46,94.43 487.88,94.88 488.29,95.52 488.70,95.58 489.11,97.05 489.52,97.71 489.94,97.31 490.35,97.55 490.76,99.58 491.18,100.87 491.59,101.93 492.00,102.65 492.41,102.90 492.82,104.33 493.24,104.28 493.65,106.23 494.06,106.65 494.48,106.99 494.89,107.74 495.30,107.79 495.71,108.40 496.12,108.86 496.54,109.74 496.95,110.81 497.36,110.81 497.77,111.32 498.19,111.83 498.60,112.43 499.01,112.56 499.43,112.85 499.84,113.72 500.25,113.77 500.66,114.26 501.07,114.51 501.49,114.66 501.90,114.94 502.31,115.32 502.73,115.71 503.14,115.73 503.55,116.15 503.96,116.30 504.38,116.39 504.79,116.67 505.20,116.84 505.61,116.89 506.02,117.04 506.44,117.26 506.85,117.38 507.26,117.52 507.68,117.64 508.09,117.75 508.50,117.83 508.91,117.97 509.32,118.07 509.74,118.15 510.15,118.16 510.56,118.16 510.98,118.17 511.39,118.18 511.80,118.18 512.21,118.18 512.62,118.19 513.04,118.19 513.45,118.19 513.86,118.19 514.27,118.20 514.69,118.20 515.10,118.20 515.51,118.20 515.92,118.20 516.34,118.20 516.75,118.20 517.16,118.20 517.58,118.20 517.99,118.20 518.40,118.20 518.81,118.20 519.23,118.20 519.64,118.20 520.05,118.20 520.46,118.20 520.88,118.20 521.29,118.20 521.70,118.20 522.11,118.20 522.52,118.20 522.94,118.20 523.35,118.20 523.76,118.20 524.17,118.20 524.59,118.20 525.00,118.20" fill="none" stroke="#6a6a6a" stroke-width="0.42"/>
<path d="M426.00,32.00V118.20H525.00" fill="none" stroke="#444" stroke-width="0.7"/>
<path d="M426.00,118.20h-2.0 M426.00,114.75h-1.0 M426.00,111.30h-1.0 M426.00,107.86h-1.0 M426.00,104.41h-1.0 M426.00,100.96h-2.0 M426.00,97.51h-1.0 M426.00,94.06h-1.0 M426.00,90.62h-1.0 M426.00,87.17h-1.0 M426.00,83.72h-2.0 M426.00,80.27h-1.0 M426.00,76.82h-1.0 M426.00,73.38h-1.0 M426.00,69.93h-1.0 M426.00,66.48h-2.0 M426.00,63.03h-1.0 M426.00,59.58h-1.0 M426.00,56.14h-1.0 M426.00,52.69h-1.0 M426.00,49.24h-2.0 M426.00,45.79h-1.0 M426.00,42.34h-1.0 M426.00,38.90h-1.0 M426.00,35.45h-1.0 M426.00,32.00h-2.0 M426.00,118.20v2.0 M429.30,118.20v1.0 M432.60,118.20v1.0 M435.90,118.20v1.0 M439.20,118.20v1.0 M442.50,118.20v2.0 M445.80,118.20v1.0 M449.10,118.20v1.0 M452.40,118.20v1.0 M455.70,118.20v1.0 M459.00,118.20v2.0 M462.30,118.20v1.0 M465.60,118.20v1.0 M468.90,118.20v1.0 M472.20,118.20v1.0 M475.50,118.20v2.0 M478.80,118.20v1.0 M482.10,118.20v1.0 M485.40,118.20v1.0 M488.70,118.20v1.0 M492.00,118.20v2.0 M495.30,118.20v1.0 M498.60,118.20v1.0 M501.90,118.20v1.0 M505.20,118.20v1.0 M508.50,118.20v2.0 M511.80,118.20v1.0 M515.10,118.20v1.0 M518.40,118.20v1.0 M521.70,118.20v1.0 M525.00,118.20v2.0" stroke="#444" stroke-width="0.5"/>
<text x="423.30" y="118.20" font-size="6.5" text-anchor="middle" fill="#2a2a2a" transform="rotate(-90 423.30 118.20)">0</text>
<text x="423.30" y="100.96" font-size="6.5" text-anchor="middle" fill="#2a2a2a" transform="rotate(-90 423.30 100.96)">100</text>
<text x="423.30" y="83.72" font-size="6.5" text-anchor="middle" fill="#2a2a2a" transform="rotate(-90 423.30 83.72)">200</text>
<text x="423.30" y="66.48" font-size="6.5" text-anchor="middle" fill="#2a2a2a" transform="rotate(-90 423.30 66.48)">300</text>
<text x="423.30" y="49.24" font-size="6.5" text-anchor="middle" fill="#2a2a2a" transform="rotate(-90 423.30 49.24)">400</text>
<text x="423.30" y="32.00" font-size="6.5" text-anchor="middle" fill="#2a2a2a" transform="rotate(-90 423.30 32.00)">500</text>
<text x="426.00" y="126.00" font-size="6.4" text-anchor="middle" fill="#2a2a2a">0</text>
<text x="442.50" y="126.00" font-size="6.4" text-anchor="middle" fill="#2a2a2a">10</text>
<text x="459.00" y="126.00" font-size="6.4" text-anchor="middle" fill="#2a2a2a">20</text>
<text x="475.50" y="126.00" font-size="6.4" text-anchor="middle" fill="#2a2a2a">30</text>
<text x="492.00" y="126.00" font-size="6.4" text-anchor="middle" fill="#2a2a2a">40</text>
<text x="508.50" y="126.00" font-size="6.4" text-anchor="middle" fill="#2a2a2a">50</text>
<text x="525.00" y="126.00" font-size="6.4" text-anchor="middle" fill="#2a2a2a">60</text>
<text x="414.60" y="75.10" font-size="6.3" text-anchor="middle" fill="#2a2a2a" transform="rotate(-90 414.60 75.10)">Number</text>
<text x="476.80" y="131.50" font-size="5.6" text-anchor="middle" fill="#333">FL11-AECD-A</text>
<text x="463.60" y="41.00" font-size="10.3" text-anchor="start" fill="#222" stroke="#222" stroke-width="0.12">G0/G1:55.21%</text>
<text x="463.60" y="53.55" font-size="10.3" text-anchor="start" fill="#222" stroke="#222" stroke-width="0.12">S:23.63%</text>
<text x="463.60" y="66.10" font-size="10.3" text-anchor="start" fill="#222" stroke="#222" stroke-width="0.12">G2/M:21.10%</text>
<text x="476.80" y="145.30" font-size="10.5" text-anchor="middle" fill="#000" stroke="#000" stroke-width="0.12">siHMGA1+siFOXM1</text>
</g>
<text x="6.20" y="163.50" font-size="15" text-anchor="start" fill="#000" stroke="#000" stroke-width="0.12">(B)</text>
<path d="M66.2,192.80V291.3H163.5" fill="none" stroke="#000" stroke-width="1.2"/>
<path d="M66.2,291.30h-3.6 M66.2,258.47h-3.6 M66.2,225.63h-3.6 M66.2,192.80h-3.6 M81.3,291.3v4.5 M104.2,291.3v4.5 M126.8,291.3v4.5 M149.2,291.3v4.5" stroke="#000" stroke-width="1.1"/>
<text x="60.60" y="295.60" font-size="10.8" text-anchor="end" fill="#000" stroke="#000" stroke-width="0.12">0</text>
<text x="60.60" y="262.77" font-size="10.8" text-anchor="end" fill="#000" stroke="#000" stroke-width="0.12">50</text>
<text x="60.60" y="229.93" font-size="10.8" text-anchor="end" fill="#000" stroke="#000" stroke-width="0.12">100</text>
<text x="60.60" y="197.10" font-size="10.8" text-anchor="end" fill="#000" stroke="#000" stroke-width="0.12">150</text>
<text x="40.00" y="243.50" font-size="10.2" text-anchor="middle" fill="#000" stroke="#000" stroke-width="0.12" transform="rotate(-90 40.00 243.50)">Percentage of cell cycle</text>
<rect x="74.0" y="226.95" width="14.6" height="6.57" fill="#bd0000"/>
<rect x="74.0" y="233.51" width="14.6" height="21.67" fill="#808080"/>
<rect x="74.0" y="255.18" width="14.6" height="36.12" fill="#000"/>
<path d="M81.30,255.18V253.21M77.80,253.21h7" stroke="#000" stroke-width="1.1"/>
<path d="M81.30,233.51V232.20M77.80,232.20h7" stroke="#808080" stroke-width="1.1"/>
<path d="M81.30,226.95V226.29M77.80,226.29h7" stroke="#bd0000" stroke-width="1.1"/>
<rect x="96.9" y="225.63" width="14.6" height="11.16" fill="#bd0000"/>
<rect x="96.9" y="236.80" width="14.6" height="21.67" fill="#808080"/>
<rect x="96.9" y="258.47" width="14.6" height="32.83" fill="#000"/>
<path d="M104.20,258.47V257.48M100.70,257.48h7" stroke="#000" stroke-width="1.1"/>
<path d="M104.20,236.80V235.48M100.70,235.48h7" stroke="#808080" stroke-width="1.1"/>
<path d="M104.20,225.63V223.99M100.70,223.99h7" stroke="#bd0000" stroke-width="1.1"/>
<rect x="119.5" y="225.63" width="14.6" height="13.13" fill="#bd0000"/>
<rect x="119.5" y="238.77" width="14.6" height="19.04" fill="#808080"/>
<rect x="119.5" y="257.81" width="14.6" height="33.49" fill="#000"/>
<path d="M126.80,257.81V256.50M123.30,256.50h7" stroke="#000" stroke-width="1.1"/>
<path d="M126.80,238.77V237.78M123.30,237.78h7" stroke="#808080" stroke-width="1.1"/>
<path d="M126.80,225.63V223.99M123.30,223.99h7" stroke="#bd0000" stroke-width="1.1"/>
<rect x="142" y="225.63" width="14.6" height="11.82" fill="#bd0000"/>
<rect x="142" y="237.45" width="14.6" height="19.04" fill="#808080"/>
<rect x="142" y="256.50" width="14.6" height="34.80" fill="#000"/>
<path d="M149.30,256.50V255.18M145.80,255.18h7" stroke="#000" stroke-width="1.1"/>
<path d="M149.30,237.45V235.48M145.80,235.48h7" stroke="#808080" stroke-width="1.1"/>
<path d="M149.30,225.63V223.99M145.80,223.99h7" stroke="#bd0000" stroke-width="1.1"/>
<rect x="69" y="192.0" width="10.4" height="5.8" fill="#bd0000"/>
<text x="82.00" y="198.60" font-size="10.3" text-anchor="start" fill="#000" stroke="#000" stroke-width="0.12">G2/M</text>
<rect x="69" y="202.6" width="10.4" height="5.8" fill="#808080"/>
<text x="82.00" y="209.20" font-size="10.3" text-anchor="start" fill="#000" stroke="#000" stroke-width="0.12">S</text>
<rect x="69" y="213.2" width="10.4" height="5.8" fill="#000"/>
<text x="82.00" y="219.80" font-size="10.3" text-anchor="start" fill="#000" stroke="#000" stroke-width="0.12">G0/G1</text>
<text x="86.30" y="303.20" font-size="10.4" text-anchor="end" fill="#000" stroke="#000" stroke-width="0.12" transform="rotate(-35 86.30 303.20)">siNC</text>
<text x="108.90" y="303.20" font-size="10.4" text-anchor="end" fill="#000" stroke="#000" stroke-width="0.12" transform="rotate(-35 108.90 303.20)">siHMGA1</text>
<text x="131.90" y="303.20" font-size="10.4" text-anchor="end" fill="#000" stroke="#000" stroke-width="0.12" transform="rotate(-35 131.90 303.20)">siFOXM1</text>
<text x="154.70" y="303.20" font-size="10.4" text-anchor="end" fill="#000" stroke="#000" stroke-width="0.12" transform="rotate(-35 154.70 303.20)">siHMGA1</text>
<text x="168.30" y="309.00" font-size="10.4" text-anchor="end" fill="#000" stroke="#000" stroke-width="0.12" transform="rotate(-35 168.30 309.00)">+siFOXM1</text>
<text x="170.60" y="163.60" font-size="15" text-anchor="start" fill="#000" stroke="#000" stroke-width="0.12">(C)</text>
<path d="M233.3,190.00V314.0H532.5" fill="none" stroke="#000" stroke-width="1.2"/>
<rect x="236.40" y="252.00" width="6.0" height="62.00" fill="#000"/>
<path d="M239.40,252.00V251.07M237.50,251.07h3.8" stroke="#000" stroke-width="1.1"/>
<rect x="245.73" y="281.45" width="6.0" height="32.55" fill="#7308a5"/>
<path d="M248.73,281.45V280.71M246.83,280.71h3.8" stroke="#7308a5" stroke-width="1.1"/>
<rect x="255.06" y="253.24" width="6.0" height="60.76" fill="#808080"/>
<path d="M258.06,253.24V247.35M256.16,247.35h3.8" stroke="#808080" stroke-width="1.1"/>
<rect x="264.39" y="292.30" width="6.0" height="21.70" fill="#bd0000"/>
<path d="M267.39,292.30V291.68M265.49,291.68h3.8" stroke="#bd0000" stroke-width="1.1"/>
<text x="251.40" y="328.90" font-size="10.6" text-anchor="middle" fill="#000" stroke="#000" stroke-width="0.12">HMGA1</text>
<rect x="279.40" y="252.00" width="6.0" height="62.00" fill="#000"/>
<path d="M282.40,252.00V248.28M280.50,248.28h3.8" stroke="#000" stroke-width="1.1"/>
<rect x="288.73" y="262.79" width="6.0" height="51.21" fill="#7308a5"/>
<path d="M291.73,262.79V260.31M289.83,260.31h3.8" stroke="#7308a5" stroke-width="1.1"/>
<rect x="298.06" y="302.28" width="6.0" height="11.72" fill="#808080"/>
<path d="M301.06,302.28V300.11M299.16,300.11h3.8" stroke="#808080" stroke-width="1.1"/>
<rect x="307.39" y="304.20" width="6.0" height="9.80" fill="#bd0000"/>
<text x="295.39" y="328.90" font-size="10.6" text-anchor="middle" fill="#000" stroke="#000" stroke-width="0.12">FOXM1</text>
<rect x="322.40" y="252.00" width="6.0" height="62.00" fill="#000"/>
<path d="M325.40,252.00V245.49M323.50,245.49h3.8" stroke="#000" stroke-width="1.1"/>
<rect x="331.73" y="281.14" width="6.0" height="32.86" fill="#7308a5"/>
<path d="M334.73,281.14V272.46M332.83,272.46h3.8" stroke="#7308a5" stroke-width="1.1"/>
<rect x="341.06" y="273.08" width="6.0" height="40.92" fill="#808080"/>
<path d="M344.06,273.08V269.05M342.16,269.05h3.8" stroke="#808080" stroke-width="1.1"/>
<rect x="350.39" y="286.10" width="6.0" height="27.90" fill="#bd0000"/>
<path d="M353.39,286.10V281.76M351.49,281.76h3.8" stroke="#bd0000" stroke-width="1.1"/>
<text x="338.39" y="328.90" font-size="10.6" text-anchor="middle" fill="#000" stroke="#000" stroke-width="0.12">CCNB1</text>
<rect x="365.40" y="252.00" width="6.0" height="62.00" fill="#000"/>
<path d="M368.40,252.00V246.11M366.50,246.11h3.8" stroke="#000" stroke-width="1.1"/>
<rect x="374.73" y="265.33" width="6.0" height="48.67" fill="#7308a5"/>
<path d="M377.73,265.33V261.61M375.83,261.61h3.8" stroke="#7308a5" stroke-width="1.1"/>
<rect x="384.06" y="269.36" width="6.0" height="44.64" fill="#808080"/>
<path d="M387.06,269.36V266.88M385.16,266.88h3.8" stroke="#808080" stroke-width="1.1"/>
<rect x="393.39" y="277.42" width="6.0" height="36.58" fill="#bd0000"/>
<path d="M396.39,277.42V275.25M394.49,275.25h3.8" stroke="#bd0000" stroke-width="1.1"/>
<text x="381.39" y="328.90" font-size="10.6" text-anchor="middle" fill="#000" stroke="#000" stroke-width="0.12">PLK1</text>
<rect x="408.40" y="252.00" width="6.0" height="62.00" fill="#000"/>
<path d="M411.40,252.00V241.46M409.50,241.46h3.8" stroke="#000" stroke-width="1.1"/>
<rect x="417.73" y="264.40" width="6.0" height="49.60" fill="#7308a5"/>
<path d="M420.73,264.40V259.19M418.83,259.19h3.8" stroke="#7308a5" stroke-width="1.1"/>
<rect x="427.06" y="286.72" width="6.0" height="27.28" fill="#808080"/>
<path d="M430.06,286.72V282.38M428.16,282.38h3.8" stroke="#808080" stroke-width="1.1"/>
<rect x="436.39" y="276.80" width="6.0" height="37.20" fill="#bd0000"/>
<path d="M439.39,276.80V271.53M437.49,271.53h3.8" stroke="#bd0000" stroke-width="1.1"/>
<text x="426.39" y="328.90" font-size="10.6" text-anchor="middle" fill="#000" stroke="#000" stroke-width="0.12">KIF20A</text>
<rect x="451.40" y="252.00" width="6.0" height="62.00" fill="#000"/>
<path d="M454.40,252.00V243.94M452.50,243.94h3.8" stroke="#000" stroke-width="1.1"/>
<rect x="460.73" y="261.30" width="6.0" height="52.70" fill="#7308a5"/>
<path d="M463.73,261.30V258.51M461.83,258.51h3.8" stroke="#7308a5" stroke-width="1.1"/>
<rect x="470.06" y="266.88" width="6.0" height="47.12" fill="#808080"/>
<path d="M473.06,266.88V262.79M471.16,262.79h3.8" stroke="#808080" stroke-width="1.1"/>
<rect x="479.39" y="276.80" width="6.0" height="37.20" fill="#bd0000"/>
<path d="M482.39,276.80V272.15M480.49,272.15h3.8" stroke="#bd0000" stroke-width="1.1"/>
<text x="468.39" y="328.90" font-size="10.6" text-anchor="middle" fill="#000" stroke="#000" stroke-width="0.12">TTK</text>
<rect x="494.40" y="252.00" width="6.0" height="62.00" fill="#000"/>
<path d="M497.40,252.00V243.32M495.50,243.32h3.8" stroke="#000" stroke-width="1.1"/>
<rect x="503.73" y="270.60" width="6.0" height="43.40" fill="#7308a5"/>
<path d="M506.73,270.60V263.78M504.83,263.78h3.8" stroke="#7308a5" stroke-width="1.1"/>
<rect x="513.06" y="250.14" width="6.0" height="63.86" fill="#808080"/>
<path d="M516.06,250.14V235.26M514.16,235.26h3.8" stroke="#808080" stroke-width="1.1"/>
<rect x="522.39" y="256.96" width="6.0" height="57.04" fill="#bd0000"/>
<path d="M525.39,256.96V249.52M523.49,249.52h3.8" stroke="#bd0000" stroke-width="1.1"/>
<text x="511.79" y="328.90" font-size="10.6" text-anchor="middle" fill="#000" stroke="#000" stroke-width="0.12">BUB1</text>
<path d="M233.3,314.00h-3.2 M233.3,283.00h-3.2 M233.3,252.00h-3.2 M233.3,221.00h-3.2 M233.3,190.00h-3.2 M253.40,314.0v4.2 M296.39,314.0v4.2 M339.39,314.0v4.2 M382.39,314.0v4.2 M425.39,314.0v4.2 M468.39,314.0v4.2 M511.39,314.0v4.2" stroke="#000" stroke-width="1.1"/>
<text x="228.70" y="317.80" font-size="10.6" text-anchor="end" fill="#000" stroke="#000" stroke-width="0.12">0</text>
<text x="228.70" y="286.80" font-size="10.6" text-anchor="end" fill="#000" stroke="#000" stroke-width="0.12">0.5</text>
<text x="228.70" y="255.80" font-size="10.6" text-anchor="end" fill="#000" stroke="#000" stroke-width="0.12">1.0</text>
<text x="228.70" y="224.80" font-size="10.6" text-anchor="end" fill="#000" stroke="#000" stroke-width="0.12">1.5</text>
<text x="228.70" y="193.80" font-size="10.6" text-anchor="end" fill="#000" stroke="#000" stroke-width="0.12">2.0</text>
<text x="210.00" y="249.90" font-size="11.4" text-anchor="middle" fill="#000" stroke="#000" stroke-width="0.12" transform="rotate(-90 210.00 249.90)">Relative mRNA level</text>
<path d="M244.20,228.70H270.90" stroke="#7a7a7a" stroke-width="0.9"/>
<text x="257.80" y="231.52" font-size="10.8" text-anchor="middle" fill="#000" stroke="#000" stroke-width="0.12" font-weight="bold">**</text>
<path d="M255.10,237.70H269.80" stroke="#7a7a7a" stroke-width="0.9"/>
<text x="261.10" y="240.52" font-size="10.8" text-anchor="middle" fill="#000" stroke="#000" stroke-width="0.12" font-weight="bold">**</text>
<path d="M245.30,244.50H259.50" stroke="#7a7a7a" stroke-width="0.9"/>
<text x="252.40" y="247.52" font-size="10.8" text-anchor="middle" fill="#000" stroke="#000" stroke-width="0.12" font-weight="bold">***</text>
<text x="248.90" y="283.32" font-size="10.8" text-anchor="middle" fill="#000" stroke="#000" stroke-width="0.12" font-weight="bold">**</text>
<text x="267.00" y="294.92" font-size="10.8" text-anchor="middle" fill="#000" stroke="#000" stroke-width="0.12" font-weight="bold">**</text>
<path d="M288.40,243.40H314.80" stroke="#7a7a7a" stroke-width="0.9"/>
<text x="302.30" y="245.92" font-size="10.8" text-anchor="middle" fill="#000" stroke="#000" stroke-width="0.12" font-weight="bold">***</text>
<path d="M289.10,251.40H303.80" stroke="#7a7a7a" stroke-width="0.9"/>
<text x="297.20" y="254.22" font-size="10.8" text-anchor="middle" fill="#000" stroke="#000" stroke-width="0.12" font-weight="bold">***</text>
<text x="291.70" y="263.72" font-size="10.8" text-anchor="middle" fill="#000" stroke="#000" stroke-width="0.12" font-weight="bold">***</text>
<text x="300.80" y="302.32" font-size="10.8" text-anchor="middle" fill="#000" stroke="#000" stroke-width="0.12" font-weight="bold">***</text>
<text x="310.40" y="306.62" font-size="10.8" text-anchor="middle" fill="#000" stroke="#000" stroke-width="0.12" font-weight="bold">***</text>
<text x="334.50" y="274.52" font-size="10.8" text-anchor="middle" fill="#000" stroke="#000" stroke-width="0.12" font-weight="bold">**</text>
<text x="343.70" y="270.92" font-size="10.8" text-anchor="middle" fill="#000" stroke="#000" stroke-width="0.12" font-weight="bold">*</text>
<text x="353.20" y="284.22" font-size="10.8" text-anchor="middle" fill="#000" stroke="#000" stroke-width="0.12" font-weight="bold">**</text>
<path d="M373.50,252.20H400.00" stroke="#7a7a7a" stroke-width="0.9"/>
<text x="386.60" y="255.22" font-size="10.8" text-anchor="middle" fill="#000" stroke="#000" stroke-width="0.12" font-weight="bold">*</text>
<text x="377.50" y="263.62" font-size="10.8" text-anchor="middle" fill="#000" stroke="#000" stroke-width="0.12" font-weight="bold">**</text>
<text x="386.90" y="269.32" font-size="10.8" text-anchor="middle" fill="#000" stroke="#000" stroke-width="0.12" font-weight="bold">**</text>
<text x="396.40" y="278.12" font-size="10.8" text-anchor="middle" fill="#000" stroke="#000" stroke-width="0.12" font-weight="bold">***</text>
<text x="429.50" y="284.62" font-size="10.8" text-anchor="middle" fill="#000" stroke="#000" stroke-width="0.12" font-weight="bold">*</text>
<text x="438.70" y="273.22" font-size="10.8" text-anchor="middle" fill="#000" stroke="#000" stroke-width="0.12" font-weight="bold">**</text>
<text x="472.80" y="263.42" font-size="10.8" text-anchor="middle" fill="#000" stroke="#000" stroke-width="0.12" font-weight="bold">*</text>
<text x="481.80" y="273.22" font-size="10.8" text-anchor="middle" fill="#000" stroke="#000" stroke-width="0.12" font-weight="bold">**</text>
<rect x="237.6" y="190.4" width="13" height="6.3" fill="#000"/>
<text x="253.20" y="196.50" font-size="10.6" text-anchor="start" fill="#000" stroke="#000" stroke-width="0.12">siNC</text>
<rect x="237.6" y="206.0" width="13" height="6.3" fill="#808080"/>
<text x="253.20" y="212.10" font-size="10.6" text-anchor="start" fill="#000" stroke="#000" stroke-width="0.12">siFOXM1</text>
<rect x="329.6" y="190.7" width="13" height="6.3" fill="#7308a5"/>
<text x="345.20" y="196.80" font-size="10.6" text-anchor="start" fill="#000" stroke="#000" stroke-width="0.12">siHMGA1</text>
<rect x="329.6" y="205.4" width="13" height="6.3" fill="#bd0000"/>
<text x="345.20" y="211.50" font-size="10.6" text-anchor="start" fill="#000" stroke="#000" stroke-width="0.12">siHMGA1+siFOXM1</text>
<text x="7.00" y="347.80" font-size="15" text-anchor="start" fill="#000" stroke="#000" stroke-width="0.12">(D)</text>
<defs>
<filter id="b1" x="-20%" y="-100%" width="140%" height="300%"><feGaussianBlur stdDeviation="0.8 0.85"/></filter>
<filter id="b2" x="-20%" y="-100%" width="140%" height="300%"><feGaussianBlur stdDeviation="1.8 1.3"/></filter>
<filter id="b3" x="-20%" y="-20%" width="140%" height="140%"><feGaussianBlur stdDeviation="2.5"/></filter>
<filter id="u1" filterUnits="userSpaceOnUse" x="0" y="0" width="550" height="647"><feGaussianBlur stdDeviation="1.0 0.8"/></filter>
<filter id="u2" filterUnits="userSpaceOnUse" x="0" y="0" width="550" height="647"><feGaussianBlur stdDeviation="1.6 1.2"/></filter>
</defs>
<clipPath id="cb1"><rect x="74.9" y="394.5" width="112.29999999999998" height="21.30000000000001"/></clipPath>
<g clip-path="url(#cb1)"><rect x="74.9" y="394.5" width="112.29999999999998" height="21.30000000000001" fill="#e9e9e9"/>
<rect x="76" y="395.5" width="110" height="3.5" fill="#c8c8c8" opacity="0.7" filter="url(#b3)"/>
<path d="M82.80,401.90 L102.80,401.90 Q106.70,405.20 102.80,408.50 L82.80,408.50 Q78.90,405.20 82.80,401.90Z" fill="#050505" opacity="1.0" filter="url(#b1)"/>
<path d="M111.80,402.10 L128.30,402.50 Q131.40,405.00 128.30,407.50 L111.80,407.90 Q108.70,405.00 111.80,402.10Z" fill="#101010" opacity="1.0" filter="url(#b1)"/>
<path d="M138.60,402.50 L156.30,402.10 Q159.40,405.00 156.30,407.90 L138.60,407.50 Q135.50,405.00 138.60,402.50Z" fill="#3a3a3a" opacity="0.95" filter="url(#b1)"/>
<path d="M166.10,402.10 L183.30,402.10 Q186.30,404.50 183.30,406.90 L166.10,406.90 Q163.10,404.50 166.10,402.10Z" fill="#8a8a8a" opacity="0.9" filter="url(#b2)"/>
</g>
<rect x="74.9" y="394.5" width="112.29999999999998" height="21.30000000000001" fill="none" stroke="#222" stroke-width="1.2"/>
<clipPath id="cb2"><rect x="74.9" y="418.3" width="112.29999999999998" height="21.69999999999999"/></clipPath>
<g clip-path="url(#cb2)"><rect x="74.9" y="418.3" width="112.29999999999998" height="21.69999999999999" fill="#e6e6e6"/>
<rect x="76" y="419.5" width="110" height="4.0" fill="#c8c8c8" opacity="0.6" filter="url(#b3)"/>
<path d="M81.80,433.00 L106.20,433.00 Q108.40,434.60 106.20,436.20 L81.80,436.20 Q79.60,434.60 81.80,433.00Z" fill="#6a6a6a" opacity="0.9" filter="url(#b2)"/>
<path d="M82.10,427.90 L106.20,426.90 Q109.10,430.20 106.20,433.50 L82.10,432.50 Q79.20,430.20 82.10,427.90Z" fill="#080808" opacity="1.0" filter="url(#b1)"/>
<path d="M112.00,432.10 L129.60,432.10 Q131.70,433.60 129.60,435.10 L112.00,435.10 Q109.90,433.60 112.00,432.10Z" fill="#7a7a7a" opacity="0.8" filter="url(#b2)"/>
<path d="M113.00,426.20 L128.60,426.20 Q131.90,428.90 128.60,431.60 L113.00,431.60 Q109.70,428.90 113.00,426.20Z" fill="#0a0a0a" opacity="1.0" filter="url(#b1)"/>
<path d="M137.10,431.80 L157.20,431.80 Q159.20,433.20 157.20,434.60 L137.10,434.60 Q135.10,433.20 137.10,431.80Z" fill="#8a8a8a" opacity="0.8" filter="url(#b2)"/>
<path d="M138.00,425.90 L156.30,425.90 Q159.40,428.40 156.30,430.90 L138.00,430.90 Q134.90,428.40 138.00,425.90Z" fill="#151515" opacity="1.0" filter="url(#b1)"/>
<path d="M164.00,425.90 L183.00,425.20 Q185.30,427.60 183.00,430.00 L164.00,429.30 Q161.70,427.60 164.00,425.90Z" fill="#151515" opacity="1.0" filter="url(#b1)"/>
</g>
<rect x="74.9" y="418.3" width="112.29999999999998" height="21.69999999999999" fill="none" stroke="#222" stroke-width="1.2"/>
<clipPath id="cb3"><rect x="74.9" y="442.5" width="112.29999999999998" height="20.69999999999999"/></clipPath>
<g clip-path="url(#cb3)"><rect x="74.9" y="442.5" width="112.29999999999998" height="20.69999999999999" fill="#ececec"/>
<rect x="76" y="446" width="24" height="14" fill="#d8d8d8" opacity="0.6" filter="url(#b3)"/>
<path d="M81.90,451.30 L98.70,451.30 Q101.70,453.70 98.70,456.10 L81.90,456.10 Q78.90,453.70 81.90,451.30Z" fill="#141414" opacity="1.0" filter="url(#b1)"/>
<path d="M108.50,450.60 L125.50,450.60 Q129.10,453.60 125.50,456.60 L108.50,456.60 Q104.90,453.60 108.50,450.60Z" fill="#050505" opacity="1.0" filter="url(#b1)"/>
<path d="M135.70,451.60 L155.30,451.60 Q157.90,453.60 155.30,455.60 L135.70,455.60 Q133.10,453.60 135.70,451.60Z" fill="#a0a0a0" opacity="0.8" filter="url(#b2)"/>
<path d="M163.50,451.80 L181.50,451.80 Q183.90,453.60 181.50,455.40 L163.50,455.40 Q161.10,453.60 163.50,451.80Z" fill="#cccccc" opacity="0.8" filter="url(#b2)"/>
</g>
<rect x="74.9" y="442.5" width="112.29999999999998" height="20.69999999999999" fill="none" stroke="#222" stroke-width="1.2"/>
<clipPath id="cb4"><rect x="74.9" y="466.5" width="112.29999999999998" height="20.5"/></clipPath>
<g clip-path="url(#cb4)"><rect x="74.9" y="466.5" width="112.29999999999998" height="20.5" fill="#d9d9d9"/>
<rect x="76" y="467.5" width="110" height="4.5" fill="#c4c4c4" opacity="0.6" filter="url(#b3)"/>
<path d="M81.90,473.80 L99.00,473.80 Q102.60,476.80 99.00,479.80 L81.90,479.80 Q78.30,476.80 81.90,473.80Z" fill="#0c0c0c" opacity="1.0" filter="url(#b1)"/>
<path d="M107.60,474.50 L125.20,474.50 Q128.10,476.80 125.20,479.10 L107.60,479.10 Q104.70,476.80 107.60,474.50Z" fill="#555555" opacity="1.0" filter="url(#b1)"/>
<path d="M135.50,473.60 L150.30,473.60 Q153.90,476.60 150.30,479.60 L135.50,479.60 Q131.90,476.60 135.50,473.60Z" fill="#0a0a0a" opacity="1.0" filter="url(#b1)"/>
<path d="M161.70,475.00 L181.30,475.00 Q183.90,477.00 181.30,479.00 L161.70,479.00 Q159.10,477.00 161.70,475.00Z" fill="#b0b0b0" opacity="0.8" filter="url(#b2)"/>
</g>
<rect x="74.9" y="466.5" width="112.29999999999998" height="20.5" fill="none" stroke="#222" stroke-width="1.2"/>
<clipPath id="cb5"><rect x="74.9" y="490.0" width="112.29999999999998" height="21.399999999999977"/></clipPath>
<g clip-path="url(#cb5)"><rect x="74.9" y="490.0" width="112.29999999999998" height="21.399999999999977" fill="#f0f0f0"/>
<path d="M81.40,498.00 L97.70,498.00 Q101.70,501.40 97.70,504.80 L81.40,504.80 Q77.40,501.40 81.40,498.00Z" fill="#050505" opacity="1.0" filter="url(#b1)"/>
<path d="M106.90,498.00 L124.10,498.00 Q128.10,501.40 124.10,504.80 L106.90,504.80 Q102.90,501.40 106.90,498.00Z" fill="#050505" opacity="1.0" filter="url(#b1)"/>
<path d="M131.90,498.00 L149.90,498.00 Q153.90,501.40 149.90,504.80 L131.90,504.80 Q127.90,501.40 131.90,498.00Z" fill="#050505" opacity="1.0" filter="url(#b1)"/>
<path d="M158.30,498.10 L180.20,498.10 Q183.90,501.20 180.20,504.30 L158.30,504.30 Q154.60,501.20 158.30,498.10Z" fill="#0a0a0a" opacity="1.0" filter="url(#b1)"/>
</g>
<rect x="74.9" y="490.0" width="112.29999999999998" height="21.399999999999977" fill="none" stroke="#222" stroke-width="1.2"/>
<text x="73.30" y="409.10" font-size="10.8" text-anchor="end" fill="#000" stroke="#000" stroke-width="0.12">CCNB1</text>
<text x="73.30" y="432.70" font-size="10.8" text-anchor="end" fill="#000" stroke="#000" stroke-width="0.12">PLK1</text>
<text x="73.30" y="456.80" font-size="10.8" text-anchor="end" fill="#000" stroke="#000" stroke-width="0.12">FOXM1</text>
<text x="73.30" y="480.60" font-size="10.8" text-anchor="end" fill="#000" stroke="#000" stroke-width="0.12">HMGA1</text>
<text x="73.30" y="504.60" font-size="10.8" text-anchor="end" fill="#000" stroke="#000" stroke-width="0.12">ACTIN</text>
<text x="191.50" y="409.10" font-size="10.5" text-anchor="start" fill="#000" stroke="#000" stroke-width="0.12">-55</text>
<text x="191.50" y="432.70" font-size="10.5" text-anchor="start" fill="#000" stroke="#000" stroke-width="0.12">-65</text>
<text x="191.50" y="456.80" font-size="10.5" text-anchor="start" fill="#000" stroke="#000" stroke-width="0.12">-110</text>
<text x="191.50" y="480.60" font-size="10.5" text-anchor="start" fill="#000" stroke="#000" stroke-width="0.12">-17</text>
<text x="191.50" y="504.60" font-size="10.5" text-anchor="start" fill="#000" stroke="#000" stroke-width="0.12">-42</text>
<text x="93.50" y="390.00" font-size="10.0" text-anchor="start" fill="#000" stroke="#000" stroke-width="0.12" transform="rotate(-90 93.50 390.00)">siNC</text>
<text x="120.80" y="390.00" font-size="10.0" text-anchor="start" fill="#000" stroke="#000" stroke-width="0.12" transform="rotate(-90 120.80 390.00)">siHMGA1</text>
<text x="148.00" y="390.00" font-size="10.0" text-anchor="start" fill="#000" stroke="#000" stroke-width="0.12" transform="rotate(-90 148.00 390.00)">siFOXM1</text>
<text x="173.20" y="390.00" font-size="10.0" text-anchor="start" fill="#000" stroke="#000" stroke-width="0.12" transform="rotate(-90 173.20 390.00)">siHMGA1</text>
<text x="185.40" y="390.00" font-size="10.0" text-anchor="start" fill="#000" stroke="#000" stroke-width="0.12" transform="rotate(-90 185.40 390.00)">+siFOXM1</text>
<text x="200.50" y="378.50" font-size="10.5" text-anchor="middle" fill="#000" stroke="#000" stroke-width="0.12">MW</text>
<text x="200.50" y="389.20" font-size="10.5" text-anchor="middle" fill="#000" stroke="#000" stroke-width="0.12">(kD)</text>
<path d="M305.5,368.20V499.2H503" fill="none" stroke="#000" stroke-width="1.2"/>
<rect x="310.00" y="433.70" width="6.8" height="65.50" fill="#000"/>
<rect x="320.75" y="471.03" width="6.8" height="28.17" fill="#7308a5"/>
<path d="M324.15,471.03V467.43M321.95,467.43h4.4" stroke="#7308a5" stroke-width="1.1"/>
<rect x="331.50" y="444.51" width="6.8" height="54.69" fill="#808080"/>
<path d="M334.90,444.51V434.68M332.70,434.68h4.4" stroke="#808080" stroke-width="1.1"/>
<rect x="342.25" y="482.17" width="6.8" height="17.03" fill="#bd0000"/>
<path d="M345.65,482.17V478.89M343.45,478.89h4.4" stroke="#bd0000" stroke-width="1.1"/>
<text x="328.92" y="512.50" font-size="10.6" text-anchor="middle" fill="#000" stroke="#000" stroke-width="0.12">HMGA1</text>
<rect x="360.00" y="433.70" width="6.8" height="65.50" fill="#000"/>
<rect x="370.75" y="425.19" width="6.8" height="74.01" fill="#7308a5"/>
<path d="M374.15,425.19V409.79M371.95,409.79h4.4" stroke="#7308a5" stroke-width="1.1"/>
<rect x="381.50" y="467.43" width="6.8" height="31.77" fill="#808080"/>
<path d="M384.90,467.43V455.64M382.70,455.64h4.4" stroke="#808080" stroke-width="1.1"/>
<rect x="392.25" y="471.69" width="6.8" height="27.51" fill="#bd0000"/>
<path d="M395.65,471.69V452.04M393.45,452.04h4.4" stroke="#bd0000" stroke-width="1.1"/>
<text x="378.92" y="512.50" font-size="10.6" text-anchor="middle" fill="#000" stroke="#000" stroke-width="0.12">FOXM1</text>
<rect x="410.00" y="433.70" width="6.8" height="65.50" fill="#000"/>
<rect x="420.75" y="459.25" width="6.8" height="39.95" fill="#7308a5"/>
<path d="M424.15,459.25V452.69M421.95,452.69h4.4" stroke="#7308a5" stroke-width="1.1"/>
<rect x="431.50" y="463.83" width="6.8" height="35.37" fill="#808080"/>
<path d="M434.90,463.83V457.28M432.70,457.28h4.4" stroke="#808080" stroke-width="1.1"/>
<rect x="442.25" y="482.17" width="6.8" height="17.03" fill="#bd0000"/>
<path d="M445.65,482.17V476.93M443.45,476.93h4.4" stroke="#bd0000" stroke-width="1.1"/>
<text x="428.92" y="512.50" font-size="10.6" text-anchor="middle" fill="#000" stroke="#000" stroke-width="0.12">CCNB1</text>
<rect x="460.00" y="433.70" width="6.8" height="65.50" fill="#000"/>
<rect x="470.75" y="458.59" width="6.8" height="40.61" fill="#7308a5"/>
<path d="M474.15,458.59V449.75M471.95,449.75h4.4" stroke="#7308a5" stroke-width="1.1"/>
<rect x="481.50" y="458.59" width="6.8" height="40.61" fill="#808080"/>
<path d="M484.90,458.59V445.49M482.70,445.49h4.4" stroke="#808080" stroke-width="1.1"/>
<rect x="492.25" y="473.98" width="6.8" height="25.22" fill="#bd0000"/>
<path d="M495.65,473.98V464.49M493.45,464.49h4.4" stroke="#bd0000" stroke-width="1.1"/>
<text x="478.92" y="512.50" font-size="10.6" text-anchor="middle" fill="#000" stroke="#000" stroke-width="0.12">PLK1</text>
<path d="M305.5,499.20h-3.2 M305.5,466.45h-3.2 M305.5,433.70h-3.2 M305.5,400.95h-3.2 M305.5,368.20h-3.2 M329.52,499.2v4.2 M379.52,499.2v4.2 M429.52,499.2v4.2 M479.52,499.2v4.2" stroke="#000" stroke-width="1.1"/>
<text x="300.90" y="503.00" font-size="10.6" text-anchor="end" fill="#000" stroke="#000" stroke-width="0.12">0.0</text>
<text x="300.90" y="470.25" font-size="10.6" text-anchor="end" fill="#000" stroke="#000" stroke-width="0.12">0.5</text>
<text x="300.90" y="437.50" font-size="10.6" text-anchor="end" fill="#000" stroke="#000" stroke-width="0.12">1.0</text>
<text x="300.90" y="404.75" font-size="10.6" text-anchor="end" fill="#000" stroke="#000" stroke-width="0.12">1.5</text>
<text x="300.90" y="372.00" font-size="10.6" text-anchor="end" fill="#000" stroke="#000" stroke-width="0.12">2.0</text>
<text x="281.80" y="435.20" font-size="11.75" text-anchor="middle" fill="#000" stroke="#000" stroke-width="0.12" transform="rotate(-90 281.80 435.20)">Expression relative to ACTIN</text>
<text x="324.00" y="468.62" font-size="10.8" text-anchor="middle" fill="#000" stroke="#000" stroke-width="0.12" font-weight="bold">***</text>
<text x="345.70" y="481.32" font-size="10.8" text-anchor="middle" fill="#000" stroke="#000" stroke-width="0.12" font-weight="bold">***</text>
<path d="M321.70,431.60H337.00" stroke="#7a7a7a" stroke-width="0.9"/>
<text x="329.30" y="433.52" font-size="10.8" text-anchor="middle" fill="#000" stroke="#000" stroke-width="0.12" font-weight="bold">**</text>
<path d="M332.00,422.80H347.50" stroke="#7a7a7a" stroke-width="0.9"/>
<text x="339.30" y="424.72" font-size="10.8" text-anchor="middle" fill="#000" stroke="#000" stroke-width="0.12" font-weight="bold">***</text>
<text x="384.80" y="456.92" font-size="10.8" text-anchor="middle" fill="#000" stroke="#000" stroke-width="0.12" font-weight="bold">**</text>
<text x="396.00" y="452.52" font-size="10.8" text-anchor="middle" fill="#000" stroke="#000" stroke-width="0.12" font-weight="bold">**</text>
<path d="M373.00,398.40H398.00" stroke="#7a7a7a" stroke-width="0.9"/>
<text x="386.20" y="400.22" font-size="10.8" text-anchor="middle" fill="#000" stroke="#000" stroke-width="0.12" font-weight="bold">**</text>
<path d="M373.00,406.70H387.70" stroke="#7a7a7a" stroke-width="0.9"/>
<text x="380.40" y="408.52" font-size="10.8" text-anchor="middle" fill="#000" stroke="#000" stroke-width="0.12" font-weight="bold">**</text>
<text x="423.80" y="454.62" font-size="10.8" text-anchor="middle" fill="#000" stroke="#000" stroke-width="0.12" font-weight="bold">**</text>
<text x="434.60" y="459.82" font-size="10.8" text-anchor="middle" fill="#000" stroke="#000" stroke-width="0.12" font-weight="bold">**</text>
<text x="445.80" y="478.32" font-size="10.8" text-anchor="middle" fill="#000" stroke="#000" stroke-width="0.12" font-weight="bold">***</text>
<path d="M420.80,444.50H447.30" stroke="#7a7a7a" stroke-width="0.9"/>
<text x="432.60" y="446.62" font-size="10.8" text-anchor="middle" fill="#000" stroke="#000" stroke-width="0.12" font-weight="bold">*</text>
<text x="473.70" y="451.62" font-size="10.8" text-anchor="middle" fill="#000" stroke="#000" stroke-width="0.12" font-weight="bold">**</text>
<text x="484.50" y="447.22" font-size="10.8" text-anchor="middle" fill="#000" stroke="#000" stroke-width="0.12" font-weight="bold">*</text>
<text x="495.70" y="466.62" font-size="10.8" text-anchor="middle" fill="#000" stroke="#000" stroke-width="0.12" font-weight="bold">***</text>
<rect x="312.3" y="368.7" width="14.0" height="6.4" fill="#000"/>
<text x="329.40" y="375.40" font-size="10.6" text-anchor="start" fill="#000" stroke="#000" stroke-width="0.12">siNC</text>
<rect x="312.3" y="384.09999999999997" width="14.0" height="6.4" fill="#808080"/>
<text x="329.40" y="390.80" font-size="10.6" text-anchor="start" fill="#000" stroke="#000" stroke-width="0.12">siFOXM1</text>
<rect x="387.2" y="368.09999999999997" width="14.0" height="6.4" fill="#7308a5"/>
<text x="404.30" y="374.80" font-size="10.6" text-anchor="start" fill="#000" stroke="#000" stroke-width="0.12">siHMGA1</text>
<rect x="387.2" y="384.09999999999997" width="14.0" height="6.4" fill="#bd0000"/>
<text x="404.30" y="390.80" font-size="10.6" text-anchor="start" fill="#000" stroke="#000" stroke-width="0.12">siHMGA1+siFOXM1</text>
<text x="9.90" y="536.60" font-size="15" text-anchor="start" fill="#000" stroke="#000" stroke-width="0.12">(E)</text>
<text x="83.50" y="589.50" font-size="10.0" text-anchor="start" fill="#000" stroke="#000" stroke-width="0.12" transform="rotate(-90 83.50 589.50)">Input</text>
<text x="110.30" y="589.50" font-size="10.0" text-anchor="start" fill="#000" stroke="#000" stroke-width="0.12" transform="rotate(-90 110.30 589.50)">IgG</text>
<text x="138.40" y="589.50" font-size="10.0" text-anchor="start" fill="#000" stroke="#000" stroke-width="0.12" transform="rotate(-90 138.40 589.50)">FOXM1</text>
<text x="164.50" y="589.50" font-size="10.0" text-anchor="start" fill="#000" stroke="#000" stroke-width="0.12" transform="rotate(-90 164.50 589.50)">HMGA1</text>
<text x="186.50" y="575.00" font-size="10.5" text-anchor="middle" fill="#000" stroke="#000" stroke-width="0.12">MW</text>
<text x="187.00" y="588.20" font-size="10.5" text-anchor="middle" fill="#000" stroke="#000" stroke-width="0.12">(kD)</text>
<clipPath id="cb6"><rect x="64.2" y="594.3" width="111.60000000000001" height="21.300000000000068"/></clipPath>
<g clip-path="url(#cb6)"><rect x="64.2" y="594.3" width="111.60000000000001" height="21.300000000000068" fill="#ebebeb"/>
<rect x="98" y="597" width="19" height="17" fill="#b0b0b0" opacity="0.9" filter="url(#b3)"/>
<rect x="121" y="597" width="24" height="8" fill="#c4c4c4" opacity="0.8" filter="url(#b3)"/>
<rect x="149" y="596" width="26" height="10" fill="#505050" opacity="0.9" filter="url(#b3)"/>
<rect x="150" y="604" width="24" height="10" fill="#101010" opacity="1.0" filter="url(#b3)"/>
</g>
<rect x="64.2" y="594.3" width="111.60000000000001" height="21.300000000000068" fill="none" stroke="#222" stroke-width="1.2"/>
<path d="M68.5,610.4 Q82,609.6 93.6,608.8" fill="none" stroke="#2a2a2a" stroke-width="1.5" stroke-linecap="round" opacity="1.0" filter="url(#u1)"/>
<path d="M122.4,607.5 Q133,607.2 143.4,607.3" fill="none" stroke="#101010" stroke-width="3.2" stroke-linecap="round" opacity="1.0" filter="url(#u1)"/>
<path d="M64.8,596.8H175" stroke="#b0b0b0" stroke-width="0.5" stroke-dasharray="1.2 1.6"/>
<rect x="64.2" y="594.3" width="111.60000000000001" height="21.3" fill="none" stroke="#222" stroke-width="1.2"/>
<clipPath id="cb7"><rect x="64.2" y="618.4" width="111.60000000000001" height="21.700000000000045"/></clipPath>
<g clip-path="url(#cb7)"><rect x="64.2" y="618.4" width="111.60000000000001" height="21.700000000000045" fill="#d6d6d6"/>
<rect x="64" y="619" width="26" height="21" fill="#e2e2e2" opacity="0.8" filter="url(#b3)"/>
</g>
<rect x="64.2" y="618.4" width="111.60000000000001" height="21.700000000000045" fill="none" stroke="#222" stroke-width="1.2"/>
<path d="M69.5,632.6 Q82.5,628.0 95.4,631.2" fill="none" stroke="#262626" stroke-width="3.2" stroke-linecap="round" opacity="1.0" filter="url(#u1)"/>
<path d="M121.5,630.6 Q132.0,627.4 144.4,628.6" fill="none" stroke="#262626" stroke-width="3.0" stroke-linecap="round" opacity="1.0" filter="url(#u1)"/>
<path d="M146.0,628.6 Q158.0,625.0 171.5,630.0" fill="none" stroke="#080808" stroke-width="4.4" stroke-linecap="round" opacity="1.0" filter="url(#u1)"/>
<rect x="64.2" y="618.4" width="111.60000000000001" height="21.7" fill="none" stroke="#222" stroke-width="1.2"/>
<text x="63.50" y="607.90" font-size="10.5" text-anchor="end" fill="#000" stroke="#000" stroke-width="0.12">FOXM1</text>
<text x="63.50" y="631.60" font-size="10.5" text-anchor="end" fill="#000" stroke="#000" stroke-width="0.12">HMGA1</text>
<text x="178.00" y="607.90" font-size="10.5" text-anchor="start" fill="#000" stroke="#000" stroke-width="0.12">-110</text>
<text x="178.00" y="634.00" font-size="10.5" text-anchor="start" fill="#000" stroke="#000" stroke-width="0.12">-17</text>
<text x="194.90" y="536.60" font-size="15" text-anchor="start" fill="#000" stroke="#000" stroke-width="0.12">(F)</text>
<defs>
<filter id="cb" x="-30%" y="-30%" width="160%" height="160%"><feGaussianBlur stdDeviation="0.7"/></filter>
<filter id="cb2" x="-50%" y="-50%" width="200%" height="200%"><feGaussianBlur stdDeviation="1.6"/></filter>
<filter id="tex" filterUnits="userSpaceOnUse" x="200" y="555" width="350" height="90">
<feTurbulence type="fractalNoise" baseFrequency="0.3" numOctaves="2" seed="7" result="noise"/>
<feColorMatrix in="noise" type="matrix" values="0 0 0 0 0  0 0 0 0 0  0 0 0 0 0  1.5 0 0 0 -0.62" result="spots"/>
<feComposite in="spots" in2="SourceGraphic" operator="in" result="spotsIn"/>
<feMerge result="m"><feMergeNode in="SourceGraphic"/><feMergeNode in="spotsIn"/></feMerge>
<feGaussianBlur in="m" stdDeviation="0.55"/>
</filter>
</defs>
<text x="253.30" y="556.20" font-size="10.5" text-anchor="middle" fill="#000" stroke="#000" stroke-width="0.12">DAPI</text>
<clipPath id="ci0"><rect x="210.0" y="560.0" width="80.6" height="80.4"/></clipPath>
<g clip-path="url(#ci0)"><rect x="210.0" y="560.0" width="80.6" height="80.4" fill="#000000"/>
<g filter="url(#tex)">
<ellipse cx="211.50" cy="560.50" rx="6.0" ry="4.6" fill="#0c10c8" transform="rotate(0 211.50 560.50)"/>
<ellipse cx="225.20" cy="563.80" rx="9.3" ry="7.4" fill="#0c10dc" transform="rotate(-8 225.20 563.80)"/>
<ellipse cx="243.80" cy="568.30" rx="9.3" ry="8.0" fill="#0c10dc" transform="rotate(-15 243.80 568.30)"/>
<ellipse cx="232.50" cy="583.40" rx="11.6" ry="8.2" fill="#0c10dc" transform="rotate(5 232.50 583.40)"/>
<ellipse cx="270.90" cy="577.00" rx="8.6" ry="10.8" fill="#0c10dc" transform="rotate(25 270.90 577.00)"/>
<ellipse cx="284.00" cy="597.00" rx="8.2" ry="12.7" fill="#0c10dc" transform="rotate(22 284.00 597.00)"/>
<ellipse cx="221.70" cy="611.10" rx="10.4" ry="8.4" fill="#0c10dc" transform="rotate(-5 221.70 611.10)"/>
<ellipse cx="222.90" cy="629.70" rx="9.6" ry="8.2" fill="#0c10dc" transform="rotate(0 222.90 629.70)"/>
<ellipse cx="231.40" cy="631.20" rx="2.6" ry="1.6" fill="#000000"/>
<ellipse cx="265.60" cy="622.00" rx="8.0" ry="10.4" fill="#1010a0" transform="rotate(32 265.60 622.00)"/>
</g>
<ellipse cx="253.0" cy="631.0" rx="2.6" ry="2.2" fill="#0c0c70" filter="url(#cb)"/>
<ellipse cx="291.0" cy="631.0" rx="1.6" ry="2.6" fill="#1020f0" filter="url(#cb)"/>
</g>
<text x="337.50" y="556.20" font-size="10.5" text-anchor="middle" fill="#f52020" stroke="#f52020" stroke-width="0.12">FOXM1</text>
<clipPath id="ci1"><rect x="294.15" y="560.0" width="80.6" height="80.4"/></clipPath>
<g clip-path="url(#ci1)"><rect x="294.15" y="560.0" width="80.6" height="80.4" fill="#140000"/>
<g filter="url(#tex)">
<ellipse cx="295.65" cy="560.50" rx="6.0" ry="4.6" fill="#b00000" transform="rotate(0 295.65 560.50)"/>
<ellipse cx="309.35" cy="563.80" rx="9.3" ry="7.4" fill="#a80000" transform="rotate(-8 309.35 563.80)"/>
<ellipse cx="327.95" cy="568.30" rx="9.3" ry="8.0" fill="#a80000" transform="rotate(-15 327.95 568.30)"/>
<ellipse cx="316.65" cy="583.40" rx="11.6" ry="8.2" fill="#a80000" transform="rotate(5 316.65 583.40)"/>
<ellipse cx="355.05" cy="577.00" rx="8.6" ry="10.8" fill="#b00000" transform="rotate(25 355.05 577.00)"/>
<ellipse cx="368.15" cy="597.00" rx="8.2" ry="12.7" fill="#c80000" transform="rotate(22 368.15 597.00)"/>
<ellipse cx="305.85" cy="611.10" rx="10.4" ry="8.4" fill="#a80000" transform="rotate(-5 305.85 611.10)"/>
<ellipse cx="307.05" cy="629.70" rx="9.6" ry="8.2" fill="#a80000" transform="rotate(0 307.05 629.70)"/>
<ellipse cx="315.55" cy="631.20" rx="2.6" ry="1.6" fill="#140000"/>
<ellipse cx="349.75" cy="622.00" rx="8.0" ry="10.4" fill="#b00000" transform="rotate(32 349.75 622.00)"/>
</g>
</g>
<text x="421.00" y="556.20" font-size="10.5" text-anchor="middle" fill="#10b050" stroke="#10b050" stroke-width="0.12">HMGA1</text>
<clipPath id="ci2"><rect x="378.3" y="560.0" width="80.6" height="80.4"/></clipPath>
<g clip-path="url(#ci2)"><rect x="378.3" y="560.0" width="80.6" height="80.4" fill="#020e02"/>
<ellipse cx="446.3" cy="626.0" rx="9" ry="6" fill="#1a5a1a" opacity="0.22" filter="url(#cb2)"/>
<g filter="url(#tex)">
<ellipse cx="379.80" cy="560.50" rx="6.0" ry="4.6" fill="#108010" transform="rotate(0 379.80 560.50)"/>
<ellipse cx="393.50" cy="563.80" rx="9.3" ry="7.4" fill="#12a01a" transform="rotate(-8 393.50 563.80)"/>
<ellipse cx="412.10" cy="568.30" rx="9.3" ry="8.0" fill="#12a01a" transform="rotate(-15 412.10 568.30)"/>
<ellipse cx="400.80" cy="583.40" rx="11.6" ry="8.2" fill="#12a01a" transform="rotate(5 400.80 583.40)"/>
<ellipse cx="439.20" cy="577.00" rx="8.6" ry="10.8" fill="#12a01a" transform="rotate(25 439.20 577.00)"/>
<ellipse cx="452.30" cy="597.00" rx="8.2" ry="12.7" fill="#18b820" transform="rotate(22 452.30 597.00)"/>
<ellipse cx="390.00" cy="611.10" rx="10.4" ry="8.4" fill="#12a01a" transform="rotate(-5 390.00 611.10)"/>
<ellipse cx="391.20" cy="629.70" rx="9.6" ry="8.2" fill="#12a01a" transform="rotate(0 391.20 629.70)"/>
<ellipse cx="399.70" cy="631.20" rx="2.6" ry="1.6" fill="#020e02"/>
<ellipse cx="433.90" cy="622.00" rx="8.0" ry="10.4" fill="#16b01e" transform="rotate(32 433.90 622.00)"/>
</g>
<ellipse cx="421.3" cy="631.0" rx="3.3" ry="2.8" fill="#28b028" filter="url(#cb)"/>
</g>
<text x="507.20" y="556.20" font-size="10.5" text-anchor="middle" fill="#000" stroke="#000" stroke-width="0.12">Merged</text>
<clipPath id="ci3"><rect x="462.4" y="560.0" width="80.6" height="80.4"/></clipPath>
<g clip-path="url(#ci3)"><rect x="462.4" y="560.0" width="80.6" height="80.4" fill="#030803"/>
<ellipse cx="530.4" cy="626.0" rx="9" ry="6" fill="#1a5a1a" opacity="0.22" filter="url(#cb2)"/>
<g filter="url(#tex)">
<ellipse cx="463.90" cy="560.50" rx="6.0" ry="4.6" fill="#b01010" transform="rotate(0 463.90 560.50)"/>
<ellipse cx="477.60" cy="563.80" rx="9.3" ry="7.4" fill="#6e78d2" transform="rotate(-8 477.60 563.80)"/>
<ellipse cx="496.20" cy="568.30" rx="9.3" ry="8.0" fill="#6e78d2" transform="rotate(-15 496.20 568.30)"/>
<ellipse cx="484.90" cy="583.40" rx="11.6" ry="8.2" fill="#6e78d2" transform="rotate(5 484.90 583.40)"/>
<ellipse cx="523.30" cy="577.00" rx="8.6" ry="10.8" fill="#7aa0cc" transform="rotate(25 523.30 577.00)"/>
<ellipse cx="536.40" cy="597.00" rx="8.2" ry="12.7" fill="#b0cc98" transform="rotate(22 536.40 597.00)"/>
<ellipse cx="474.10" cy="611.10" rx="10.4" ry="8.4" fill="#6e78d2" transform="rotate(-5 474.10 611.10)"/>
<ellipse cx="475.30" cy="629.70" rx="9.6" ry="8.2" fill="#6e78d2" transform="rotate(0 475.30 629.70)"/>
<ellipse cx="483.80" cy="631.20" rx="2.6" ry="1.6" fill="#030803"/>
<ellipse cx="518.00" cy="622.00" rx="8.0" ry="10.4" fill="#a0c088" transform="rotate(32 518.00 622.00)"/>
</g>
<ellipse cx="505.4" cy="631.0" rx="3.3" ry="2.8" fill="#28b028" filter="url(#cb)"/>
<ellipse cx="543.1999999999999" cy="631.0" rx="1.6" ry="2.6" fill="#1020f0" filter="url(#cb)"/>
</g>
<text x="272.80" y="633.80" font-size="7.8" text-anchor="middle" fill="#fff">10&#160;&#956;m</text>
<path d="M267.2,636.6H283.2" stroke="#fff" stroke-width="1.0"/>
</svg>
</body></html>
